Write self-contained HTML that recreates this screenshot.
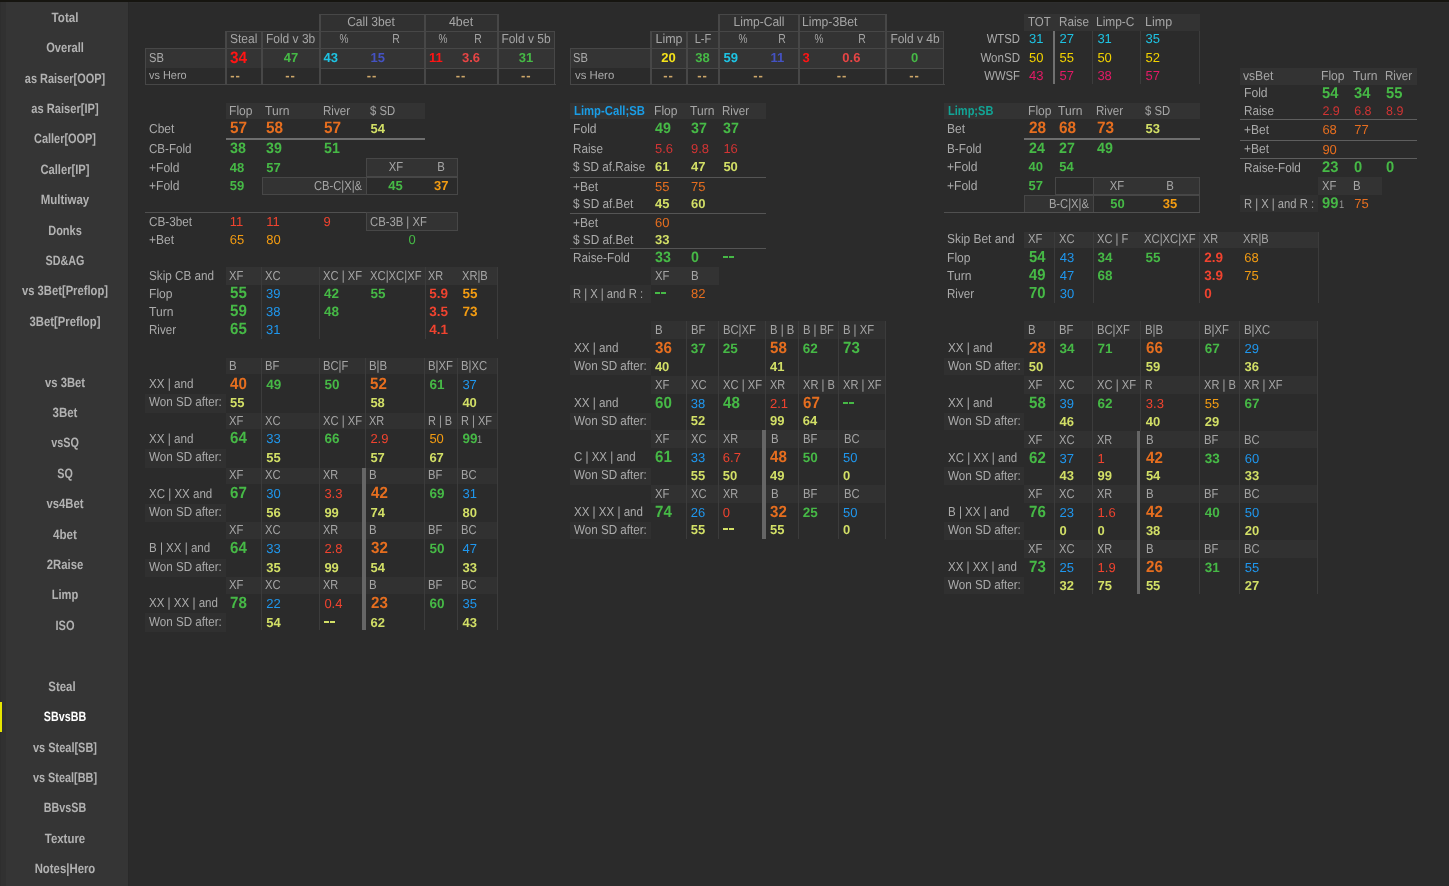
<!DOCTYPE html>
<html><head><meta charset="utf-8"><style>
html,body{margin:0;padding:0;}
body{width:1449px;height:886px;background:#2b2b2b;position:relative;overflow:hidden;font-family:"Liberation Sans",sans-serif;text-rendering:geometricPrecision;}
.a{position:absolute;white-space:nowrap;}
#w{position:absolute;left:0;top:0;width:1449px;height:886px;will-change:transform;}
</style></head><body><div id="w">
<div class="a" style="left:0px;top:0px;width:1449px;height:2px;background:#161510;"></div>
<div class="a" style="left:129px;top:2px;width:1320px;height:1px;background:#2e2e2e;"></div>
<div class="a" style="left:0px;top:2px;width:128px;height:884px;background:#353535;"></div>
<div class="a" style="left:0px;top:2px;width:6px;height:884px;background:#313131;"></div>
<div class="a" style="left:0px;top:2px;width:1px;height:884px;background:#2e2e2e;"></div>
<div class="a" style="left:128px;top:2px;width:1px;height:884px;background:#292929;"></div>
<div class="a" style="top:11.00px;font-size:13.5px;line-height:13.5px;color:#b2b2b2;font-weight:bold;left:-35.2px;width:200px;text-align:center;transform:scaleX(0.8573362405741801);transform-origin:center;">Total</div>
<div class="a" style="top:41.00px;font-size:13.5px;line-height:13.5px;color:#b2b2b2;font-weight:bold;left:-35.2px;width:200px;text-align:center;transform:scaleX(0.8236045116390689);transform-origin:center;">Overall</div>
<div class="a" style="top:72.00px;font-size:13.5px;line-height:13.5px;color:#b2b2b2;font-weight:bold;left:-35.2px;width:200px;text-align:center;transform:scaleX(0.8101416158254761);transform-origin:center;">as Raiser[OOP]</div>
<div class="a" style="top:102.00px;font-size:13.5px;line-height:13.5px;color:#b2b2b2;font-weight:bold;left:-35.2px;width:200px;text-align:center;transform:scaleX(0.8225881748931395);transform-origin:center;">as Raiser[IP]</div>
<div class="a" style="top:132.00px;font-size:13.5px;line-height:13.5px;color:#b2b2b2;font-weight:bold;left:-35.2px;width:200px;text-align:center;transform:scaleX(0.8102521887842357);transform-origin:center;">Caller[OOP]</div>
<div class="a" style="top:163.00px;font-size:13.5px;line-height:13.5px;color:#b2b2b2;font-weight:bold;left:-35.2px;width:200px;text-align:center;transform:scaleX(0.8274612060620291);transform-origin:center;">Caller[IP]</div>
<div class="a" style="top:193.00px;font-size:13.5px;line-height:13.5px;color:#b2b2b2;font-weight:bold;left:-35.2px;width:200px;text-align:center;transform:scaleX(0.8512085860143215);transform-origin:center;">Multiway</div>
<div class="a" style="top:224.00px;font-size:13.5px;line-height:13.5px;color:#b2b2b2;font-weight:bold;left:-35.2px;width:200px;text-align:center;transform:scaleX(0.814726053741871);transform-origin:center;">Donks</div>
<div class="a" style="top:254.00px;font-size:13.5px;line-height:13.5px;color:#b2b2b2;font-weight:bold;left:-35.2px;width:200px;text-align:center;transform:scaleX(0.7996023876770226);transform-origin:center;">SD&amp;AG</div>
<div class="a" style="top:284.00px;font-size:13.5px;line-height:13.5px;color:#b2b2b2;font-weight:bold;left:-35.2px;width:200px;text-align:center;transform:scaleX(0.8299003619984199);transform-origin:center;">vs 3Bet[Preflop]</div>
<div class="a" style="top:315.00px;font-size:13.5px;line-height:13.5px;color:#b2b2b2;font-weight:bold;left:-35.2px;width:200px;text-align:center;transform:scaleX(0.8354124539845491);transform-origin:center;">3Bet[Preflop]</div>
<div class="a" style="top:376.00px;font-size:13.5px;line-height:13.5px;color:#b2b2b2;font-weight:bold;left:-35.2px;width:200px;text-align:center;transform:scaleX(0.8324834029747563);transform-origin:center;">vs 3Bet</div>
<div class="a" style="top:406.00px;font-size:13.5px;line-height:13.5px;color:#b2b2b2;font-weight:bold;left:-35.2px;width:200px;text-align:center;transform:scaleX(0.850106380315887);transform-origin:center;">3Bet</div>
<div class="a" style="top:436.00px;font-size:13.5px;line-height:13.5px;color:#b2b2b2;font-weight:bold;left:-35.2px;width:200px;text-align:center;transform:scaleX(0.8016987390292718);transform-origin:center;">vsSQ</div>
<div class="a" style="top:467.00px;font-size:13.5px;line-height:13.5px;color:#b2b2b2;font-weight:bold;left:-35.2px;width:200px;text-align:center;transform:scaleX(0.7962825278810409);transform-origin:center;">SQ</div>
<div class="a" style="top:497.00px;font-size:13.5px;line-height:13.5px;color:#b2b2b2;font-weight:bold;left:-35.2px;width:200px;text-align:center;transform:scaleX(0.8360754084440255);transform-origin:center;">vs4Bet</div>
<div class="a" style="top:528.00px;font-size:13.5px;line-height:13.5px;color:#b2b2b2;font-weight:bold;left:-35.2px;width:200px;text-align:center;transform:scaleX(0.8638979040783838);transform-origin:center;">4bet</div>
<div class="a" style="top:558.00px;font-size:13.5px;line-height:13.5px;color:#b2b2b2;font-weight:bold;left:-35.2px;width:200px;text-align:center;transform:scaleX(0.838768871839738);transform-origin:center;">2Raise</div>
<div class="a" style="top:588.00px;font-size:13.5px;line-height:13.5px;color:#b2b2b2;font-weight:bold;left:-35.2px;width:200px;text-align:center;transform:scaleX(0.8249023348778051);transform-origin:center;">Limp</div>
<div class="a" style="top:619.00px;font-size:13.5px;line-height:13.5px;color:#b2b2b2;font-weight:bold;left:-35.2px;width:200px;text-align:center;transform:scaleX(0.8172692533803645);transform-origin:center;">ISO</div>
<div class="a" style="top:680.00px;font-size:13.5px;line-height:13.5px;color:#b2b2b2;font-weight:bold;left:-38px;width:200px;text-align:center;transform:scaleX(0.8461862066356448);transform-origin:center;">Steal</div>
<div class="a" style="top:710.00px;font-size:13.5px;line-height:13.5px;color:#ffffff;font-weight:bold;left:-35.2px;width:200px;text-align:center;transform:scaleX(0.7930169991796028);transform-origin:center;">SBvsBB</div>
<div class="a" style="top:741.00px;font-size:13.5px;line-height:13.5px;color:#b2b2b2;font-weight:bold;left:-35.2px;width:200px;text-align:center;transform:scaleX(0.8117064432853907);transform-origin:center;">vs Steal[SB]</div>
<div class="a" style="top:771.00px;font-size:13.5px;line-height:13.5px;color:#b2b2b2;font-weight:bold;left:-35.2px;width:200px;text-align:center;transform:scaleX(0.8076106444640928);transform-origin:center;">vs Steal[BB]</div>
<div class="a" style="top:801.00px;font-size:13.5px;line-height:13.5px;color:#b2b2b2;font-weight:bold;left:-35.2px;width:200px;text-align:center;transform:scaleX(0.7930169991796028);transform-origin:center;">BBvsSB</div>
<div class="a" style="top:832.00px;font-size:13.5px;line-height:13.5px;color:#b2b2b2;font-weight:bold;left:-35.2px;width:200px;text-align:center;transform:scaleX(0.8472850520160605);transform-origin:center;">Texture</div>
<div class="a" style="top:862.00px;font-size:13.5px;line-height:13.5px;color:#b2b2b2;font-weight:bold;left:-35.2px;width:200px;text-align:center;transform:scaleX(0.8418797423097908);transform-origin:center;">Notes|Hero</div>
<div class="a" style="left:0px;top:702px;width:2px;height:30px;background:#e6e600;"></div>
<div class="a" style="left:320px;top:14px;width:104px;height:17px;background:#313131;"></div>
<div class="a" style="left:424px;top:14px;width:73px;height:17px;background:#313131;"></div>
<div class="a" style="left:226px;top:31px;width:329px;height:17px;background:#333333;"></div>
<div class="a" style="left:145px;top:48px;width:410px;height:20px;background:#343434;"></div>
<div class="a" style="left:320px;top:14px;width:177px;height:1px;background:#474747;"></div>
<div class="a" style="left:226px;top:31px;width:329px;height:1px;background:#474747;"></div>
<div class="a" style="left:145px;top:48px;width:410px;height:1px;background:#474747;"></div>
<div class="a" style="left:320px;top:68px;width:235px;height:1px;background:#474747;"></div>
<div class="a" style="left:145px;top:84px;width:411px;height:1px;background:#474747;"></div>
<div class="a" style="left:145px;top:48px;width:1px;height:37px;background:#474747;"></div>
<div class="a" style="left:225px;top:31px;width:2px;height:54px;background:#474747;"></div>
<div class="a" style="left:261px;top:31px;width:2px;height:54px;background:#474747;"></div>
<div class="a" style="left:319px;top:14px;width:2px;height:71px;background:#474747;"></div>
<div class="a" style="left:424px;top:14px;width:2px;height:71px;background:#474747;"></div>
<div class="a" style="left:497px;top:14px;width:2px;height:71px;background:#474747;"></div>
<div class="a" style="left:554px;top:31px;width:1px;height:54px;background:#474747;"></div>
<div class="a" style="top:15.00px;font-size:13px;line-height:13px;color:#a6a6a6;left:270.8px;width:200px;text-align:center;transform:scaleX(0.9297538042805888);transform-origin:center;">Call 3bet</div>
<div class="a" style="top:15.00px;font-size:13px;line-height:13px;color:#a6a6a6;left:361px;width:200px;text-align:center;transform:scaleX(0.9551777374657454);transform-origin:center;">4bet</div>
<div class="a" style="top:32.00px;font-size:13px;line-height:13px;color:#a6a6a6;left:229.5px;transform:scaleX(0.9215740557642871);transform-origin:left;">Steal</div>
<div class="a" style="top:32.00px;font-size:13px;line-height:13px;color:#a6a6a6;left:265.5px;transform:scaleX(0.9204142011834319);transform-origin:left;">Fold v 3b</div>
<div class="a" style="top:32.00px;font-size:13px;line-height:13px;color:#a6a6a6;left:243.5px;width:200px;text-align:center;transform:scaleX(0.773032568749208);transform-origin:center;">%</div>
<div class="a" style="top:32.00px;font-size:13px;line-height:13px;color:#a6a6a6;left:295.8px;width:200px;text-align:center;transform:scaleX(0.8007697508711707);transform-origin:center;">R</div>
<div class="a" style="top:32.00px;font-size:13px;line-height:13px;color:#a6a6a6;left:342.7px;width:200px;text-align:center;transform:scaleX(0.773032568749208);transform-origin:center;">%</div>
<div class="a" style="top:32.00px;font-size:13px;line-height:13px;color:#a6a6a6;left:377.8px;width:200px;text-align:center;transform:scaleX(0.8007697508711707);transform-origin:center;">R</div>
<div class="a" style="top:32.00px;font-size:13px;line-height:13px;color:#a6a6a6;left:426px;width:200px;text-align:center;transform:scaleX(0.9204142011834319);transform-origin:center;">Fold v 5b</div>
<div class="a" style="top:51.00px;font-size:13px;line-height:13px;color:#ababab;left:148.8px;transform:scaleX(0.8560198220520329);transform-origin:left;">SB</div>
<div class="a" style="top:50.00px;font-size:16.5px;line-height:16.5px;color:#ff1414;font-weight:bold;left:230px;transform:scaleX(0.93);transform-origin:left;">34</div>
<div class="a" style="top:51.00px;font-size:13px;line-height:13px;color:#46b946;font-weight:bold;left:191px;width:200px;text-align:center;">47</div>
<div class="a" style="top:51.00px;font-size:13px;line-height:13px;color:#1ec3e3;font-weight:bold;left:323.5px;">43</div>
<div class="a" style="top:51.00px;font-size:13px;line-height:13px;color:#4452c2;font-weight:bold;left:370.5px;">15</div>
<div class="a" style="top:51.00px;font-size:13px;line-height:13px;color:#ff1414;font-weight:bold;left:429px;">11</div>
<div class="a" style="top:51.00px;font-size:13px;line-height:13px;color:#e84545;font-weight:bold;left:462px;">3.6</div>
<div class="a" style="top:51.00px;font-size:13px;line-height:13px;color:#46b946;font-weight:bold;left:426px;width:200px;text-align:center;">31</div>
<div class="a" style="top:71.00px;font-size:11.5px;line-height:11.5px;color:#ababab;left:149.2px;transform:scaleX(0.95);transform-origin:left;">vs Hero</div>
<div class="a" style="top:69.00px;font-size:13px;line-height:13px;color:#cfa86a;font-weight:bold;letter-spacing:1.04px;left:135.5px;width:200px;text-align:center;">--</div>
<div class="a" style="top:69.00px;font-size:13px;line-height:13px;color:#cfa86a;font-weight:bold;letter-spacing:1.04px;left:190.5px;width:200px;text-align:center;">--</div>
<div class="a" style="top:69.00px;font-size:13px;line-height:13px;color:#cfa86a;font-weight:bold;letter-spacing:1.04px;left:272px;width:200px;text-align:center;">--</div>
<div class="a" style="top:69.00px;font-size:13px;line-height:13px;color:#cfa86a;font-weight:bold;letter-spacing:1.04px;left:361px;width:200px;text-align:center;">--</div>
<div class="a" style="top:69.00px;font-size:13px;line-height:13px;color:#cfa86a;font-weight:bold;letter-spacing:1.04px;left:426.29999999999995px;width:200px;text-align:center;">--</div>
<div class="a" style="left:226px;top:103px;width:199px;height:16px;background:#333333;"></div>
<div class="a" style="top:104.00px;font-size:13px;line-height:13px;color:#a6a6a6;left:228.7px;transform:scaleX(0.9299814643188137);transform-origin:left;">Flop</div>
<div class="a" style="top:104.00px;font-size:13px;line-height:13px;color:#a6a6a6;left:265.2px;transform:scaleX(0.9306614544325301);transform-origin:left;">Turn</div>
<div class="a" style="top:104.00px;font-size:13px;line-height:13px;color:#a6a6a6;left:322.6px;transform:scaleX(0.8899576673587972);transform-origin:left;">River</div>
<div class="a" style="top:104.00px;font-size:13px;line-height:13px;color:#a6a6a6;left:369.5px;transform:scaleX(0.8696176654445926);transform-origin:left;">$ SD</div>
<div class="a" style="top:122.00px;font-size:13px;line-height:13px;color:#ababab;left:149.10000000000002px;transform:scaleX(0.9195881788114797);transform-origin:left;">Cbet</div>
<div class="a" style="top:120.00px;font-size:16.5px;line-height:16.5px;color:#e66e1f;font-weight:bold;left:229.7px;transform:scaleX(0.93);transform-origin:left;">57</div>
<div class="a" style="top:120.00px;font-size:16.5px;line-height:16.5px;color:#e66e1f;font-weight:bold;left:266.2px;transform:scaleX(0.93);transform-origin:left;">58</div>
<div class="a" style="top:120.00px;font-size:16.5px;line-height:16.5px;color:#e66e1f;font-weight:bold;left:323.6px;transform:scaleX(0.93);transform-origin:left;">57</div>
<div class="a" style="top:122.00px;font-size:13px;line-height:13px;color:#d2df66;font-weight:bold;left:370.5px;">54</div>
<div class="a" style="left:226px;top:138px;width:199px;height:2px;background:#6e6e6e;"></div>
<div class="a" style="top:142.00px;font-size:13px;line-height:13px;color:#ababab;left:149.10000000000002px;transform:scaleX(0.8906076216421043);transform-origin:left;">CB-Fold</div>
<div class="a" style="top:141.00px;font-size:15px;line-height:15px;color:#46b946;font-weight:bold;left:229.7px;transform:scaleX(0.95);transform-origin:left;">38</div>
<div class="a" style="top:141.00px;font-size:15px;line-height:15px;color:#46b946;font-weight:bold;left:266.2px;transform:scaleX(0.95);transform-origin:left;">39</div>
<div class="a" style="top:141.00px;font-size:15px;line-height:15px;color:#46b946;font-weight:bold;left:323.6px;transform:scaleX(0.95);transform-origin:left;">51</div>
<div class="a" style="top:161.00px;font-size:13px;line-height:13px;color:#ababab;left:149.10000000000002px;transform:scaleX(0.9266854766854767);transform-origin:left;">+Fold</div>
<div class="a" style="top:161.00px;font-size:13px;line-height:13px;color:#46b946;font-weight:bold;left:229.7px;">48</div>
<div class="a" style="top:161.00px;font-size:13px;line-height:13px;color:#46b946;font-weight:bold;left:266.2px;">57</div>
<div class="a" style="top:179.00px;font-size:13px;line-height:13px;color:#ababab;left:149.10000000000002px;transform:scaleX(0.9266854766854767);transform-origin:left;">+Fold</div>
<div class="a" style="top:179.00px;font-size:13px;line-height:13px;color:#46b946;font-weight:bold;left:229.7px;">59</div>
<div class="a" style="left:366px;top:158px;width:92px;height:19px;background:#333333;box-shadow:inset 0 0 0 1px #474747;"></div>
<div class="a" style="top:160.00px;font-size:13px;line-height:13px;color:#a6a6a6;left:295.8px;width:200px;text-align:center;transform:scaleX(0.8663825284383174);transform-origin:center;">XF</div>
<div class="a" style="top:160.00px;font-size:13px;line-height:13px;color:#a6a6a6;left:341.3px;width:200px;text-align:center;transform:scaleX(0.8766302511544092);transform-origin:center;">B</div>
<div class="a" style="left:262px;top:177px;width:105px;height:18px;background:#333333;box-shadow:inset 0 0 0 1px #474747;"></div>
<div class="a" style="top:179.00px;font-size:13px;line-height:13px;color:#a6a6a6;left:162px;width:200px;text-align:right;transform:scaleX(0.8599898624438501);transform-origin:right;">CB-C|X|&amp;</div>
<div class="a" style="left:366px;top:177px;width:92px;height:18px;box-shadow:inset 0 0 0 1px #474747;"></div>
<div class="a" style="top:179.00px;font-size:13px;line-height:13px;color:#46b946;font-weight:bold;left:295.5px;width:200px;text-align:center;">45</div>
<div class="a" style="top:179.00px;font-size:13px;line-height:13px;color:#f39c12;font-weight:bold;left:341.3px;width:200px;text-align:center;">37</div>
<div class="a" style="left:145px;top:212px;width:313px;height:1px;background:#505050;"></div>
<div class="a" style="left:366px;top:212px;width:92px;height:19px;background:#333333;box-shadow:inset 0 0 0 1px #474747;"></div>
<div class="a" style="top:215.00px;font-size:13px;line-height:13px;color:#a6a6a6;left:369.7px;transform:scaleX(0.8670697071123468);transform-origin:left;">CB-3B | XF</div>
<div class="a" style="top:215.00px;font-size:13px;line-height:13px;color:#ababab;left:149.10000000000002px;transform:scaleX(0.9033613531417337);transform-origin:left;">CB-3bet</div>
<div class="a" style="top:215.00px;font-size:13px;line-height:13px;color:#f0432f;left:229.7px;">11</div>
<div class="a" style="top:215.00px;font-size:13px;line-height:13px;color:#f0432f;left:266.2px;">11</div>
<div class="a" style="top:215.00px;font-size:13px;line-height:13px;color:#f0432f;left:323.6px;">9</div>
<div class="a" style="top:233.00px;font-size:13px;line-height:13px;color:#ababab;left:149.10000000000002px;transform:scaleX(0.9217582417582417);transform-origin:left;">+Bet</div>
<div class="a" style="top:233.00px;font-size:13px;line-height:13px;color:#f39c12;left:229.7px;">65</div>
<div class="a" style="top:233.00px;font-size:13px;line-height:13px;color:#f39c12;left:266.2px;">80</div>
<div class="a" style="top:233.00px;font-size:13px;line-height:13px;color:#46b946;left:312.2px;width:200px;text-align:center;">0</div>
<div class="a" style="left:226px;top:267px;width:271px;height:18px;background:#333333;"></div>
<div class="a" style="top:269.00px;font-size:13px;line-height:13px;color:#ababab;left:149.10000000000002px;transform:scaleX(0.9007878804259689);transform-origin:left;">Skip CB and</div>
<div class="a" style="top:269.00px;font-size:13px;line-height:13px;color:#a6a6a6;left:229px;transform:scaleX(0.8663825284383174);transform-origin:left;">XF</div>
<div class="a" style="top:269.00px;font-size:13px;line-height:13px;color:#a6a6a6;left:265px;transform:scaleX(0.8632526700013519);transform-origin:left;">XC</div>
<div class="a" style="top:269.00px;font-size:13px;line-height:13px;color:#a6a6a6;left:322.9px;transform:scaleX(0.8617477026618922);transform-origin:left;">XC | XF</div>
<div class="a" style="top:269.00px;font-size:13px;line-height:13px;color:#a6a6a6;left:369.5px;transform:scaleX(0.8662567823809953);transform-origin:left;">XC|XC|XF</div>
<div class="a" style="top:269.00px;font-size:13px;line-height:13px;color:#a6a6a6;left:428.3px;transform:scaleX(0.8398323644720832);transform-origin:left;">XR</div>
<div class="a" style="top:269.00px;font-size:13px;line-height:13px;color:#a6a6a6;left:461.5px;transform:scaleX(0.8551614525049059);transform-origin:left;">XR|B</div>
<div class="a" style="left:261px;top:267px;width:1px;height:72px;background:#3c3c3c;"></div>
<div class="a" style="left:319px;top:267px;width:1px;height:72px;background:#3c3c3c;"></div>
<div class="a" style="left:425px;top:267px;width:1px;height:72px;background:#3c3c3c;"></div>
<div class="a" style="left:497px;top:267px;width:1px;height:72px;background:#3c3c3c;"></div>
<div class="a" style="top:287.00px;font-size:13px;line-height:13px;color:#ababab;left:149.10000000000002px;transform:scaleX(0.9299814643188137);transform-origin:left;">Flop</div>
<div class="a" style="top:285.00px;font-size:16.25px;line-height:16.25px;color:#46b946;font-weight:bold;left:230px;transform:scaleX(0.93);transform-origin:left;">55</div>
<div class="a" style="top:287.00px;font-size:13px;line-height:13px;color:#1f97ee;left:266px;">39</div>
<div class="a" style="top:287.00px;font-size:13.5px;line-height:13.5px;color:#46b946;font-weight:bold;left:323.9px;">42</div>
<div class="a" style="top:287.00px;font-size:13.5px;line-height:13.5px;color:#46b946;font-weight:bold;left:370.5px;">55</div>
<div class="a" style="top:287.00px;font-size:13.5px;line-height:13.5px;color:#f0432f;font-weight:bold;left:429.3px;">5.9</div>
<div class="a" style="top:287.00px;font-size:13.5px;line-height:13.5px;color:#f39c12;font-weight:bold;left:462.5px;">55</div>
<div class="a" style="top:305.00px;font-size:13px;line-height:13px;color:#ababab;left:149.10000000000002px;transform:scaleX(0.9306614544325301);transform-origin:left;">Turn</div>
<div class="a" style="top:303.00px;font-size:16.25px;line-height:16.25px;color:#46b946;font-weight:bold;left:230px;transform:scaleX(0.93);transform-origin:left;">59</div>
<div class="a" style="top:305.00px;font-size:13px;line-height:13px;color:#1f97ee;left:266px;">38</div>
<div class="a" style="top:305.00px;font-size:13.5px;line-height:13.5px;color:#46b946;font-weight:bold;left:323.9px;">48</div>
<div class="a" style="top:305.00px;font-size:13.5px;line-height:13.5px;color:#f0432f;font-weight:bold;left:429.3px;">3.5</div>
<div class="a" style="top:305.00px;font-size:13.5px;line-height:13.5px;color:#f39c12;font-weight:bold;left:462.5px;">73</div>
<div class="a" style="top:323.00px;font-size:13px;line-height:13px;color:#ababab;left:149.10000000000002px;transform:scaleX(0.8899576673587972);transform-origin:left;">River</div>
<div class="a" style="top:321.00px;font-size:16.25px;line-height:16.25px;color:#46b946;font-weight:bold;left:230px;transform:scaleX(0.93);transform-origin:left;">65</div>
<div class="a" style="top:323.00px;font-size:13px;line-height:13px;color:#1f97ee;left:266px;">31</div>
<div class="a" style="top:323.00px;font-size:13.5px;line-height:13.5px;color:#f0432f;font-weight:bold;left:429.3px;">4.1</div>
<div class="a" style="left:226px;top:358px;width:271px;height:16px;background:#313131;"></div>
<div class="a" style="left:145px;top:394px;width:81px;height:19px;background:#303030;"></div>
<div class="a" style="left:261px;top:358px;width:1px;height:55px;background:#3c3c3c;"></div>
<div class="a" style="left:319px;top:358px;width:1px;height:55px;background:#3c3c3c;"></div>
<div class="a" style="left:365px;top:358px;width:1px;height:55px;background:#3c3c3c;"></div>
<div class="a" style="left:424px;top:358px;width:1px;height:55px;background:#3c3c3c;"></div>
<div class="a" style="left:457px;top:358px;width:1px;height:55px;background:#3c3c3c;"></div>
<div class="a" style="left:497px;top:358px;width:1px;height:55px;background:#3c3c3c;"></div>
<div class="a" style="top:359.00px;font-size:13px;line-height:13px;color:#a6a6a6;left:228.6px;transform:scaleX(0.8766302511544092);transform-origin:left;">B</div>
<div class="a" style="top:376.00px;font-size:16.25px;line-height:16.25px;color:#e66e1f;font-weight:bold;left:230px;transform:scaleX(0.93);transform-origin:left;">40</div>
<div class="a" style="top:396.00px;font-size:13px;line-height:13px;color:#d2df66;font-weight:bold;left:230px;">55</div>
<div class="a" style="top:359.00px;font-size:13px;line-height:13px;color:#a6a6a6;left:264.8px;transform:scaleX(0.8635137121189853);transform-origin:left;">BF</div>
<div class="a" style="top:378.00px;font-size:13.5px;line-height:13.5px;color:#46b946;font-weight:bold;left:266.2px;">49</div>
<div class="a" style="top:359.00px;font-size:13px;line-height:13px;color:#a6a6a6;left:323.0px;transform:scaleX(0.8599860381623562);transform-origin:left;">BC|F</div>
<div class="a" style="top:378.00px;font-size:13.5px;line-height:13.5px;color:#46b946;font-weight:bold;left:324.4px;">50</div>
<div class="a" style="top:359.00px;font-size:13px;line-height:13px;color:#a6a6a6;left:369.0px;transform:scaleX(0.8775075414781297);transform-origin:left;">B|B</div>
<div class="a" style="top:376.00px;font-size:16.25px;line-height:16.25px;color:#e66e1f;font-weight:bold;left:370.4px;transform:scaleX(0.93);transform-origin:left;">52</div>
<div class="a" style="top:396.00px;font-size:13px;line-height:13px;color:#d2df66;font-weight:bold;left:370.4px;">58</div>
<div class="a" style="top:359.00px;font-size:13px;line-height:13px;color:#a6a6a6;left:428.0px;transform:scaleX(0.8713246443479);transform-origin:left;">B|XF</div>
<div class="a" style="top:378.00px;font-size:13.5px;line-height:13.5px;color:#46b946;font-weight:bold;left:429.4px;">61</div>
<div class="a" style="top:359.00px;font-size:13px;line-height:13px;color:#a6a6a6;left:461.0px;transform:scaleX(0.8692096855284711);transform-origin:left;">B|XC</div>
<div class="a" style="top:378.00px;font-size:13px;line-height:13px;color:#1f97ee;left:462.4px;">37</div>
<div class="a" style="top:396.00px;font-size:13px;line-height:13px;color:#d2df66;font-weight:bold;left:462.4px;">40</div>
<div class="a" style="top:377.00px;font-size:13px;line-height:13px;color:#ababab;left:149.0px;transform:scaleX(0.8982537605635187);transform-origin:left;">XX | and</div>
<div class="a" style="top:395.00px;font-size:13px;line-height:13px;color:#ababab;left:149.0px;transform:scaleX(0.8945829071791284);transform-origin:left;">Won SD after:</div>
<div class="a" style="left:226px;top:413px;width:271px;height:16px;background:#313131;"></div>
<div class="a" style="left:145px;top:449px;width:81px;height:19px;background:#303030;"></div>
<div class="a" style="left:261px;top:413px;width:1px;height:55px;background:#3c3c3c;"></div>
<div class="a" style="left:319px;top:413px;width:1px;height:55px;background:#3c3c3c;"></div>
<div class="a" style="left:365px;top:413px;width:1px;height:55px;background:#3c3c3c;"></div>
<div class="a" style="left:424px;top:413px;width:1px;height:55px;background:#3c3c3c;"></div>
<div class="a" style="left:457px;top:413px;width:1px;height:55px;background:#3c3c3c;"></div>
<div class="a" style="left:497px;top:413px;width:1px;height:55px;background:#3c3c3c;"></div>
<div class="a" style="top:414.00px;font-size:13px;line-height:13px;color:#a6a6a6;left:228.6px;transform:scaleX(0.8663825284383174);transform-origin:left;">XF</div>
<div class="a" style="top:430.00px;font-size:16.25px;line-height:16.25px;color:#46b946;font-weight:bold;left:230px;transform:scaleX(0.93);transform-origin:left;">64</div>
<div class="a" style="top:414.00px;font-size:13px;line-height:13px;color:#a6a6a6;left:264.8px;transform:scaleX(0.8632526700013519);transform-origin:left;">XC</div>
<div class="a" style="top:432.00px;font-size:13px;line-height:13px;color:#1f97ee;left:266.2px;">33</div>
<div class="a" style="top:451.00px;font-size:13px;line-height:13px;color:#d2df66;font-weight:bold;left:266.2px;">55</div>
<div class="a" style="top:414.00px;font-size:13px;line-height:13px;color:#a6a6a6;left:323.0px;transform:scaleX(0.8617477026618922);transform-origin:left;">XC | XF</div>
<div class="a" style="top:432.00px;font-size:13.5px;line-height:13.5px;color:#46b946;font-weight:bold;left:324.4px;">66</div>
<div class="a" style="top:414.00px;font-size:13px;line-height:13px;color:#a6a6a6;left:369.0px;transform:scaleX(0.8398323644720832);transform-origin:left;">XR</div>
<div class="a" style="top:432.00px;font-size:13px;line-height:13px;color:#f0432f;left:370.4px;">2.9</div>
<div class="a" style="top:451.00px;font-size:13px;line-height:13px;color:#d2df66;font-weight:bold;left:370.4px;">57</div>
<div class="a" style="top:414.00px;font-size:13px;line-height:13px;color:#a6a6a6;left:428.0px;transform:scaleX(0.8426407700826305);transform-origin:left;">R | B</div>
<div class="a" style="top:432.00px;font-size:13px;line-height:13px;color:#f39c12;left:429.4px;">50</div>
<div class="a" style="top:451.00px;font-size:13px;line-height:13px;color:#d2df66;font-weight:bold;left:429.4px;">67</div>
<div class="a" style="top:414.00px;font-size:13px;line-height:13px;color:#a6a6a6;left:461.0px;transform:scaleX(0.8453640705461725);transform-origin:left;">R | XF</div>
<div class="a" style="top:432.00px;font-size:13.5px;line-height:13.5px;color:#46b946;font-weight:bold;left:462.4px;">99</div>
<div class="a" style="top:432.00px;font-size:13px;line-height:13px;color:#ababab;left:149.0px;transform:scaleX(0.8982537605635187);transform-origin:left;">XX | and</div>
<div class="a" style="top:450.00px;font-size:13px;line-height:13px;color:#ababab;left:149.0px;transform:scaleX(0.8945829071791284);transform-origin:left;">Won SD after:</div>
<div class="a" style="left:226px;top:468px;width:271px;height:16px;background:#313131;"></div>
<div class="a" style="left:145px;top:504px;width:81px;height:18px;background:#303030;"></div>
<div class="a" style="left:261px;top:468px;width:1px;height:54px;background:#3c3c3c;"></div>
<div class="a" style="left:319px;top:468px;width:1px;height:54px;background:#3c3c3c;"></div>
<div class="a" style="left:424px;top:468px;width:1px;height:54px;background:#3c3c3c;"></div>
<div class="a" style="left:457px;top:468px;width:1px;height:54px;background:#3c3c3c;"></div>
<div class="a" style="left:497px;top:468px;width:1px;height:54px;background:#3c3c3c;"></div>
<div class="a" style="top:468.00px;font-size:13px;line-height:13px;color:#a6a6a6;left:228.6px;transform:scaleX(0.8663825284383174);transform-origin:left;">XF</div>
<div class="a" style="top:485.00px;font-size:16.25px;line-height:16.25px;color:#46b946;font-weight:bold;left:230px;transform:scaleX(0.93);transform-origin:left;">67</div>
<div class="a" style="top:468.00px;font-size:13px;line-height:13px;color:#a6a6a6;left:264.8px;transform:scaleX(0.8632526700013519);transform-origin:left;">XC</div>
<div class="a" style="top:487.00px;font-size:13px;line-height:13px;color:#1f97ee;left:266.2px;">30</div>
<div class="a" style="top:506.00px;font-size:13px;line-height:13px;color:#d2df66;font-weight:bold;left:266.2px;">56</div>
<div class="a" style="top:468.00px;font-size:13px;line-height:13px;color:#a6a6a6;left:323.0px;transform:scaleX(0.8398323644720832);transform-origin:left;">XR</div>
<div class="a" style="top:487.00px;font-size:13px;line-height:13px;color:#f0432f;left:324.4px;">3.3</div>
<div class="a" style="top:506.00px;font-size:13px;line-height:13px;color:#d2df66;font-weight:bold;left:324.4px;">99</div>
<div class="a" style="top:468.00px;font-size:13px;line-height:13px;color:#a6a6a6;left:369.1px;transform:scaleX(0.8766302511544092);transform-origin:left;">B</div>
<div class="a" style="top:485.00px;font-size:16.25px;line-height:16.25px;color:#e66e1f;font-weight:bold;left:370.5px;transform:scaleX(0.93);transform-origin:left;">42</div>
<div class="a" style="top:506.00px;font-size:13px;line-height:13px;color:#d2df66;font-weight:bold;left:370.5px;">74</div>
<div class="a" style="top:468.00px;font-size:13px;line-height:13px;color:#a6a6a6;left:428.1px;transform:scaleX(0.8635137121189853);transform-origin:left;">BF</div>
<div class="a" style="top:487.00px;font-size:13.5px;line-height:13.5px;color:#46b946;font-weight:bold;left:429.5px;">69</div>
<div class="a" style="top:468.00px;font-size:13px;line-height:13px;color:#a6a6a6;left:461.1px;transform:scaleX(0.8606137623360822);transform-origin:left;">BC</div>
<div class="a" style="top:487.00px;font-size:13px;line-height:13px;color:#1f97ee;left:462.5px;">31</div>
<div class="a" style="top:506.00px;font-size:13px;line-height:13px;color:#d2df66;font-weight:bold;left:462.5px;">80</div>
<div class="a" style="top:487.00px;font-size:13px;line-height:13px;color:#ababab;left:149.0px;transform:scaleX(0.8863294277164124);transform-origin:left;">XC | XX and</div>
<div class="a" style="top:505.00px;font-size:13px;line-height:13px;color:#ababab;left:149.0px;transform:scaleX(0.8945829071791284);transform-origin:left;">Won SD after:</div>
<div class="a" style="left:226px;top:522px;width:271px;height:17px;background:#313131;"></div>
<div class="a" style="left:145px;top:559px;width:81px;height:18px;background:#303030;"></div>
<div class="a" style="left:261px;top:522px;width:1px;height:55px;background:#3c3c3c;"></div>
<div class="a" style="left:319px;top:522px;width:1px;height:55px;background:#3c3c3c;"></div>
<div class="a" style="left:424px;top:522px;width:1px;height:55px;background:#3c3c3c;"></div>
<div class="a" style="left:457px;top:522px;width:1px;height:55px;background:#3c3c3c;"></div>
<div class="a" style="left:497px;top:522px;width:1px;height:55px;background:#3c3c3c;"></div>
<div class="a" style="top:523.00px;font-size:13px;line-height:13px;color:#a6a6a6;left:228.6px;transform:scaleX(0.8663825284383174);transform-origin:left;">XF</div>
<div class="a" style="top:540.00px;font-size:16.25px;line-height:16.25px;color:#46b946;font-weight:bold;left:230px;transform:scaleX(0.93);transform-origin:left;">64</div>
<div class="a" style="top:523.00px;font-size:13px;line-height:13px;color:#a6a6a6;left:264.8px;transform:scaleX(0.8632526700013519);transform-origin:left;">XC</div>
<div class="a" style="top:542.00px;font-size:13px;line-height:13px;color:#1f97ee;left:266.2px;">33</div>
<div class="a" style="top:561.00px;font-size:13px;line-height:13px;color:#d2df66;font-weight:bold;left:266.2px;">35</div>
<div class="a" style="top:523.00px;font-size:13px;line-height:13px;color:#a6a6a6;left:323.0px;transform:scaleX(0.8398323644720832);transform-origin:left;">XR</div>
<div class="a" style="top:542.00px;font-size:13px;line-height:13px;color:#f0432f;left:324.4px;">2.8</div>
<div class="a" style="top:561.00px;font-size:13px;line-height:13px;color:#d2df66;font-weight:bold;left:324.4px;">99</div>
<div class="a" style="top:523.00px;font-size:13px;line-height:13px;color:#a6a6a6;left:369.1px;transform:scaleX(0.8766302511544092);transform-origin:left;">B</div>
<div class="a" style="top:540.00px;font-size:16.25px;line-height:16.25px;color:#e66e1f;font-weight:bold;left:370.5px;transform:scaleX(0.93);transform-origin:left;">32</div>
<div class="a" style="top:561.00px;font-size:13px;line-height:13px;color:#d2df66;font-weight:bold;left:370.5px;">54</div>
<div class="a" style="top:523.00px;font-size:13px;line-height:13px;color:#a6a6a6;left:428.1px;transform:scaleX(0.8635137121189853);transform-origin:left;">BF</div>
<div class="a" style="top:542.00px;font-size:13.5px;line-height:13.5px;color:#46b946;font-weight:bold;left:429.5px;">50</div>
<div class="a" style="top:523.00px;font-size:13px;line-height:13px;color:#a6a6a6;left:461.1px;transform:scaleX(0.8606137623360822);transform-origin:left;">BC</div>
<div class="a" style="top:542.00px;font-size:13px;line-height:13px;color:#1f97ee;left:462.5px;">47</div>
<div class="a" style="top:561.00px;font-size:13px;line-height:13px;color:#d2df66;font-weight:bold;left:462.5px;">33</div>
<div class="a" style="top:541.00px;font-size:13px;line-height:13px;color:#ababab;left:149.0px;transform:scaleX(0.8884044927895688);transform-origin:left;">B | XX | and</div>
<div class="a" style="top:560.00px;font-size:13px;line-height:13px;color:#ababab;left:149.0px;transform:scaleX(0.8945829071791284);transform-origin:left;">Won SD after:</div>
<div class="a" style="left:226px;top:577px;width:271px;height:17px;background:#313131;"></div>
<div class="a" style="left:145px;top:613px;width:81px;height:19px;background:#303030;"></div>
<div class="a" style="left:261px;top:577px;width:1px;height:53px;background:#3c3c3c;"></div>
<div class="a" style="left:319px;top:577px;width:1px;height:53px;background:#3c3c3c;"></div>
<div class="a" style="left:424px;top:577px;width:1px;height:53px;background:#3c3c3c;"></div>
<div class="a" style="left:457px;top:577px;width:1px;height:53px;background:#3c3c3c;"></div>
<div class="a" style="left:497px;top:577px;width:1px;height:53px;background:#3c3c3c;"></div>
<div class="a" style="top:578.00px;font-size:13px;line-height:13px;color:#a6a6a6;left:228.6px;transform:scaleX(0.8663825284383174);transform-origin:left;">XF</div>
<div class="a" style="top:595.00px;font-size:16.25px;line-height:16.25px;color:#46b946;font-weight:bold;left:230px;transform:scaleX(0.93);transform-origin:left;">78</div>
<div class="a" style="top:578.00px;font-size:13px;line-height:13px;color:#a6a6a6;left:264.8px;transform:scaleX(0.8632526700013519);transform-origin:left;">XC</div>
<div class="a" style="top:597.00px;font-size:13px;line-height:13px;color:#1f97ee;left:266.2px;">22</div>
<div class="a" style="top:616.00px;font-size:13px;line-height:13px;color:#d2df66;font-weight:bold;left:266.2px;">54</div>
<div class="a" style="top:578.00px;font-size:13px;line-height:13px;color:#a6a6a6;left:323.0px;transform:scaleX(0.8398323644720832);transform-origin:left;">XR</div>
<div class="a" style="top:597.00px;font-size:13px;line-height:13px;color:#f0432f;left:324.4px;">0.4</div>
<div class="a" style="left:324px;top:621px;width:5px;height:2px;background:#d2df66;"></div>
<div class="a" style="left:330px;top:621px;width:5px;height:2px;background:#d2df66;"></div>
<div class="a" style="top:578.00px;font-size:13px;line-height:13px;color:#a6a6a6;left:369.1px;transform:scaleX(0.8766302511544092);transform-origin:left;">B</div>
<div class="a" style="top:595.00px;font-size:16.25px;line-height:16.25px;color:#e66e1f;font-weight:bold;left:370.5px;transform:scaleX(0.93);transform-origin:left;">23</div>
<div class="a" style="top:616.00px;font-size:13px;line-height:13px;color:#d2df66;font-weight:bold;left:370.5px;">62</div>
<div class="a" style="top:578.00px;font-size:13px;line-height:13px;color:#a6a6a6;left:428.1px;transform:scaleX(0.8635137121189853);transform-origin:left;">BF</div>
<div class="a" style="top:597.00px;font-size:13.5px;line-height:13.5px;color:#46b946;font-weight:bold;left:429.5px;">60</div>
<div class="a" style="top:578.00px;font-size:13px;line-height:13px;color:#a6a6a6;left:461.1px;transform:scaleX(0.8606137623360822);transform-origin:left;">BC</div>
<div class="a" style="top:597.00px;font-size:13px;line-height:13px;color:#1f97ee;left:462.5px;">35</div>
<div class="a" style="top:616.00px;font-size:13px;line-height:13px;color:#d2df66;font-weight:bold;left:462.5px;">43</div>
<div class="a" style="top:596.00px;font-size:13px;line-height:13px;color:#ababab;left:149.0px;transform:scaleX(0.8883170834565974);transform-origin:left;">XX | XX | and</div>
<div class="a" style="top:615.00px;font-size:13px;line-height:13px;color:#ababab;left:149.0px;transform:scaleX(0.8945829071791284);transform-origin:left;">Won SD after:</div>
<div class="a" style="left:362px;top:468px;width:4px;height:162px;background:#666666;"></div>
<div class="a" style="top:435.00px;font-size:11px;line-height:11px;color:#9a9a9a;left:477px;transform:scaleX(0.85);transform-origin:left;">1</div>
<div class="a" style="left:719px;top:14px;width:79px;height:17px;background:#313131;"></div>
<div class="a" style="left:798px;top:14px;width:88px;height:17px;background:#313131;"></div>
<div class="a" style="left:650px;top:31px;width:294px;height:17px;background:#333333;"></div>
<div class="a" style="left:570px;top:48px;width:374px;height:20px;background:#343434;"></div>
<div class="a" style="left:719px;top:14px;width:167px;height:1px;background:#474747;"></div>
<div class="a" style="left:650px;top:31px;width:294px;height:1px;background:#474747;"></div>
<div class="a" style="left:570px;top:48px;width:374px;height:1px;background:#474747;"></div>
<div class="a" style="left:650px;top:68px;width:294px;height:1px;background:#474747;"></div>
<div class="a" style="left:570px;top:84px;width:375px;height:1px;background:#474747;"></div>
<div class="a" style="left:570px;top:48px;width:1px;height:37px;background:#474747;"></div>
<div class="a" style="left:650px;top:31px;width:2px;height:54px;background:#474747;"></div>
<div class="a" style="left:686px;top:31px;width:2px;height:54px;background:#474747;"></div>
<div class="a" style="left:718px;top:14px;width:2px;height:71px;background:#474747;"></div>
<div class="a" style="left:798px;top:14px;width:2px;height:71px;background:#474747;"></div>
<div class="a" style="left:885px;top:14px;width:2px;height:71px;background:#474747;"></div>
<div class="a" style="left:943px;top:31px;width:1px;height:54px;background:#474747;"></div>
<div class="a" style="top:15.00px;font-size:13px;line-height:13px;color:#a6a6a6;left:658.5px;width:200px;text-align:center;transform:scaleX(0.9283705541770058);transform-origin:center;">Limp-Call</div>
<div class="a" style="top:15.00px;font-size:13px;line-height:13px;color:#a6a6a6;left:802.3px;transform:scaleX(0.9346409322411037);transform-origin:left;">Limp-3Bet</div>
<div class="a" style="top:32.00px;font-size:13px;line-height:13px;color:#a6a6a6;left:568.5px;width:200px;text-align:center;transform:scaleX(0.9612941237631483);transform-origin:center;">Limp</div>
<div class="a" style="top:32.00px;font-size:13px;line-height:13px;color:#a6a6a6;left:602.5px;width:200px;text-align:center;transform:scaleX(0.8556740785256409);transform-origin:center;">L-F</div>
<div class="a" style="top:32.00px;font-size:13px;line-height:13px;color:#a6a6a6;left:643px;width:200px;text-align:center;transform:scaleX(0.773032568749208);transform-origin:center;">%</div>
<div class="a" style="top:32.00px;font-size:13px;line-height:13px;color:#a6a6a6;left:681.5px;width:200px;text-align:center;transform:scaleX(0.8007697508711707);transform-origin:center;">R</div>
<div class="a" style="top:32.00px;font-size:13px;line-height:13px;color:#a6a6a6;left:718.7px;width:200px;text-align:center;transform:scaleX(0.773032568749208);transform-origin:center;">%</div>
<div class="a" style="top:32.00px;font-size:13px;line-height:13px;color:#a6a6a6;left:762px;width:200px;text-align:center;transform:scaleX(0.8007697508711707);transform-origin:center;">R</div>
<div class="a" style="top:32.00px;font-size:13px;line-height:13px;color:#a6a6a6;left:814.6px;width:200px;text-align:center;transform:scaleX(0.9204142011834319);transform-origin:center;">Fold v 4b</div>
<div class="a" style="top:51.00px;font-size:13px;line-height:13px;color:#ababab;left:573.0px;transform:scaleX(0.8560198220520329);transform-origin:left;">SB</div>
<div class="a" style="top:51.00px;font-size:13px;line-height:13px;color:#f5e31a;font-weight:bold;left:568.5px;width:200px;text-align:center;">20</div>
<div class="a" style="top:51.00px;font-size:13px;line-height:13px;color:#46b946;font-weight:bold;left:602.5px;width:200px;text-align:center;">38</div>
<div class="a" style="top:51.00px;font-size:13px;line-height:13px;color:#1ec3e3;font-weight:bold;left:723.5px;">59</div>
<div class="a" style="top:51.00px;font-size:13px;line-height:13px;color:#4452c2;font-weight:bold;left:770.5px;">11</div>
<div class="a" style="top:51.00px;font-size:13px;line-height:13px;color:#ff1414;font-weight:bold;left:802.5px;">3</div>
<div class="a" style="top:51.00px;font-size:13px;line-height:13px;color:#e84545;font-weight:bold;left:842.3px;">0.6</div>
<div class="a" style="top:51.00px;font-size:13px;line-height:13px;color:#46b946;font-weight:bold;left:814.6px;width:200px;text-align:center;">0</div>
<div class="a" style="top:71.00px;font-size:11.5px;line-height:11.5px;color:#ababab;left:574.5px;transform:scaleX(0.99);transform-origin:left;">vs Hero</div>
<div class="a" style="top:69.00px;font-size:13px;line-height:13px;color:#cfa86a;font-weight:bold;letter-spacing:1.04px;left:568.5px;width:200px;text-align:center;">--</div>
<div class="a" style="top:69.00px;font-size:13px;line-height:13px;color:#cfa86a;font-weight:bold;letter-spacing:1.04px;left:602.5px;width:200px;text-align:center;">--</div>
<div class="a" style="top:69.00px;font-size:13px;line-height:13px;color:#cfa86a;font-weight:bold;letter-spacing:1.04px;left:658.5px;width:200px;text-align:center;">--</div>
<div class="a" style="top:69.00px;font-size:13px;line-height:13px;color:#cfa86a;font-weight:bold;letter-spacing:1.04px;left:742px;width:200px;text-align:center;">--</div>
<div class="a" style="top:69.00px;font-size:13px;line-height:13px;color:#cfa86a;font-weight:bold;letter-spacing:1.04px;left:814.6px;width:200px;text-align:center;">--</div>
<div class="a" style="left:570px;top:103px;width:196px;height:16px;background:#333333;"></div>
<div class="a" style="top:104.00px;font-size:13px;line-height:13px;color:#1a9de6;font-weight:bold;left:574px;transform:scaleX(0.8687999952136221);transform-origin:left;">Limp-Call;SB</div>
<div class="a" style="top:104.00px;font-size:13px;line-height:13px;color:#a6a6a6;left:654px;transform:scaleX(0.9299814643188137);transform-origin:left;">Flop</div>
<div class="a" style="top:104.00px;font-size:13px;line-height:13px;color:#a6a6a6;left:690px;transform:scaleX(0.9306614544325301);transform-origin:left;">Turn</div>
<div class="a" style="top:104.00px;font-size:13px;line-height:13px;color:#a6a6a6;left:722.4px;transform:scaleX(0.8899576673587972);transform-origin:left;">River</div>
<div class="a" style="top:122.00px;font-size:13px;line-height:13px;color:#ababab;left:573.3px;transform:scaleX(0.9311592523941922);transform-origin:left;">Fold</div>
<div class="a" style="top:121.00px;font-size:15px;line-height:15px;color:#46b946;font-weight:bold;left:655px;transform:scaleX(0.95);transform-origin:left;">49</div>
<div class="a" style="top:121.00px;font-size:15px;line-height:15px;color:#46b946;font-weight:bold;left:691px;transform:scaleX(0.95);transform-origin:left;">37</div>
<div class="a" style="top:121.00px;font-size:15px;line-height:15px;color:#46b946;font-weight:bold;left:723.4px;transform:scaleX(0.95);transform-origin:left;">37</div>
<div class="a" style="top:142.00px;font-size:13px;line-height:13px;color:#ababab;left:573.3px;transform:scaleX(0.8992096139154961);transform-origin:left;">Raise</div>
<div class="a" style="top:142.00px;font-size:13px;line-height:13px;color:#d23434;left:655px;">5.6</div>
<div class="a" style="top:142.00px;font-size:13px;line-height:13px;color:#d23434;left:691px;">9.8</div>
<div class="a" style="top:142.00px;font-size:13px;line-height:13px;color:#d23434;left:723.4px;">16</div>
<div class="a" style="top:160.00px;font-size:13px;line-height:13px;color:#ababab;left:573.3px;transform:scaleX(0.899467291711059);transform-origin:left;">$ SD af.Raise</div>
<div class="a" style="top:160.00px;font-size:13px;line-height:13px;color:#d2df66;font-weight:bold;left:655px;">61</div>
<div class="a" style="top:160.00px;font-size:13px;line-height:13px;color:#d2df66;font-weight:bold;left:691px;">47</div>
<div class="a" style="top:160.00px;font-size:13px;line-height:13px;color:#d2df66;font-weight:bold;left:723.4px;">50</div>
<div class="a" style="left:570px;top:177px;width:196px;height:1px;background:#555555;"></div>
<div class="a" style="top:180.00px;font-size:13px;line-height:13px;color:#ababab;left:573.3px;transform:scaleX(0.9217582417582417);transform-origin:left;">+Bet</div>
<div class="a" style="top:180.00px;font-size:13px;line-height:13px;color:#e66e1f;left:655px;">55</div>
<div class="a" style="top:180.00px;font-size:13px;line-height:13px;color:#e66e1f;left:691px;">75</div>
<div class="a" style="top:197.00px;font-size:13px;line-height:13px;color:#ababab;left:573.3px;transform:scaleX(0.9072780556596082);transform-origin:left;">$ SD af.Bet</div>
<div class="a" style="top:197.00px;font-size:13px;line-height:13px;color:#d2df66;font-weight:bold;left:655px;">45</div>
<div class="a" style="top:197.00px;font-size:13px;line-height:13px;color:#d2df66;font-weight:bold;left:691px;">60</div>
<div class="a" style="left:570px;top:213px;width:196px;height:1px;background:#555555;"></div>
<div class="a" style="top:216.00px;font-size:13px;line-height:13px;color:#ababab;left:573.3px;transform:scaleX(0.9217582417582417);transform-origin:left;">+Bet</div>
<div class="a" style="top:216.00px;font-size:13px;line-height:13px;color:#e66e1f;left:655px;">60</div>
<div class="a" style="top:233.00px;font-size:13px;line-height:13px;color:#ababab;left:573.3px;transform:scaleX(0.9072780556596082);transform-origin:left;">$ SD af.Bet</div>
<div class="a" style="top:233.00px;font-size:13px;line-height:13px;color:#d2df66;font-weight:bold;left:655px;">33</div>
<div class="a" style="left:570px;top:248px;width:196px;height:1px;background:#555555;"></div>
<div class="a" style="top:251.00px;font-size:13px;line-height:13px;color:#ababab;left:573.3px;transform:scaleX(0.9037739073691406);transform-origin:left;">Raise-Fold</div>
<div class="a" style="top:250.00px;font-size:15px;line-height:15px;color:#46b946;font-weight:bold;left:655px;transform:scaleX(0.95);transform-origin:left;">33</div>
<div class="a" style="top:250.00px;font-size:15px;line-height:15px;color:#46b946;font-weight:bold;left:691px;transform:scaleX(0.95);transform-origin:left;">0</div>
<div class="a" style="left:723px;top:256px;width:5px;height:2px;background:#46b946;"></div>
<div class="a" style="left:729px;top:256px;width:5px;height:2px;background:#46b946;"></div>
<div class="a" style="left:651px;top:267px;width:68px;height:18px;background:#333333;"></div>
<div class="a" style="top:269.00px;font-size:13px;line-height:13px;color:#a6a6a6;left:654.8px;transform:scaleX(0.8663825284383174);transform-origin:left;">XF</div>
<div class="a" style="top:269.00px;font-size:13px;line-height:13px;color:#a6a6a6;left:690.8px;transform:scaleX(0.8766302511544092);transform-origin:left;">B</div>
<div class="a" style="left:570px;top:285px;width:81px;height:18px;background:#303030;"></div>
<div class="a" style="top:287.00px;font-size:13px;line-height:13px;color:#ababab;left:573.3px;transform:scaleX(0.862433531435721);transform-origin:left;">R | X | and R :</div>
<div class="a" style="left:655px;top:292px;width:5px;height:2px;background:#46b946;"></div>
<div class="a" style="left:661px;top:292px;width:5px;height:2px;background:#46b946;"></div>
<div class="a" style="top:287.00px;font-size:13px;line-height:13px;color:#e66e1f;left:691px;">82</div>
<div class="a" style="left:651px;top:321px;width:234px;height:18px;background:#313131;"></div>
<div class="a" style="left:570px;top:358px;width:81px;height:17px;background:#303030;"></div>
<div class="a" style="left:686px;top:321px;width:1px;height:55px;background:#3c3c3c;"></div>
<div class="a" style="left:718px;top:321px;width:1px;height:55px;background:#3c3c3c;"></div>
<div class="a" style="left:765px;top:321px;width:1px;height:55px;background:#3c3c3c;"></div>
<div class="a" style="left:798px;top:321px;width:1px;height:55px;background:#3c3c3c;"></div>
<div class="a" style="left:838px;top:321px;width:1px;height:55px;background:#3c3c3c;"></div>
<div class="a" style="left:885px;top:321px;width:1px;height:55px;background:#3c3c3c;"></div>
<div class="a" style="top:323.00px;font-size:13px;line-height:13px;color:#a6a6a6;left:655.3000000000001px;transform:scaleX(0.8766302511544092);transform-origin:left;">B</div>
<div class="a" style="top:340.00px;font-size:16.25px;line-height:16.25px;color:#e66e1f;font-weight:bold;left:654.9000000000001px;transform:scaleX(0.93);transform-origin:left;">36</div>
<div class="a" style="top:360.00px;font-size:13px;line-height:13px;color:#d2df66;font-weight:bold;left:654.9000000000001px;">40</div>
<div class="a" style="top:323.00px;font-size:13px;line-height:13px;color:#a6a6a6;left:691.2px;transform:scaleX(0.8635137121189853);transform-origin:left;">BF</div>
<div class="a" style="top:342.00px;font-size:13.5px;line-height:13.5px;color:#46b946;font-weight:bold;left:690.8000000000001px;">37</div>
<div class="a" style="top:323.00px;font-size:13px;line-height:13px;color:#a6a6a6;left:723.2px;transform:scaleX(0.8650316983650317);transform-origin:left;">BC|XF</div>
<div class="a" style="top:342.00px;font-size:13.5px;line-height:13.5px;color:#46b946;font-weight:bold;left:722.8000000000001px;">25</div>
<div class="a" style="top:323.00px;font-size:13px;line-height:13px;color:#a6a6a6;left:770.4px;transform:scaleX(0.8672561423129347);transform-origin:left;">B | B</div>
<div class="a" style="top:340.00px;font-size:16.25px;line-height:16.25px;color:#e66e1f;font-weight:bold;left:770.0px;transform:scaleX(0.93);transform-origin:left;">58</div>
<div class="a" style="top:360.00px;font-size:13px;line-height:13px;color:#d2df66;font-weight:bold;left:770.0px;">41</div>
<div class="a" style="top:323.00px;font-size:13px;line-height:13px;color:#a6a6a6;left:803.1px;transform:scaleX(0.8632584468423845);transform-origin:left;">B | BF</div>
<div class="a" style="top:342.00px;font-size:13.5px;line-height:13.5px;color:#46b946;font-weight:bold;left:802.7px;">62</div>
<div class="a" style="top:323.00px;font-size:13px;line-height:13px;color:#a6a6a6;left:843.4px;transform:scaleX(0.8645865367606036);transform-origin:left;">B | XF</div>
<div class="a" style="top:340.00px;font-size:16.25px;line-height:16.25px;color:#46b946;font-weight:bold;left:843.0px;transform:scaleX(0.93);transform-origin:left;">73</div>
<div class="a" style="top:341.00px;font-size:13px;line-height:13px;color:#ababab;left:573.7px;transform:scaleX(0.8982537605635187);transform-origin:left;">XX | and</div>
<div class="a" style="top:359.00px;font-size:13px;line-height:13px;color:#ababab;left:573.7px;transform:scaleX(0.8945829071791284);transform-origin:left;">Won SD after:</div>
<div class="a" style="left:651px;top:376px;width:234px;height:18px;background:#313131;"></div>
<div class="a" style="left:570px;top:413px;width:81px;height:17px;background:#303030;"></div>
<div class="a" style="left:686px;top:376px;width:1px;height:54px;background:#3c3c3c;"></div>
<div class="a" style="left:718px;top:376px;width:1px;height:54px;background:#3c3c3c;"></div>
<div class="a" style="left:765px;top:376px;width:1px;height:54px;background:#3c3c3c;"></div>
<div class="a" style="left:798px;top:376px;width:1px;height:54px;background:#3c3c3c;"></div>
<div class="a" style="left:838px;top:376px;width:1px;height:54px;background:#3c3c3c;"></div>
<div class="a" style="left:885px;top:376px;width:1px;height:54px;background:#3c3c3c;"></div>
<div class="a" style="top:378.00px;font-size:13px;line-height:13px;color:#a6a6a6;left:655.3000000000001px;transform:scaleX(0.8663825284383174);transform-origin:left;">XF</div>
<div class="a" style="top:395.00px;font-size:16.25px;line-height:16.25px;color:#46b946;font-weight:bold;left:654.9000000000001px;transform:scaleX(0.93);transform-origin:left;">60</div>
<div class="a" style="top:378.00px;font-size:13px;line-height:13px;color:#a6a6a6;left:691.2px;transform:scaleX(0.8632526700013519);transform-origin:left;">XC</div>
<div class="a" style="top:397.00px;font-size:13px;line-height:13px;color:#1f97ee;left:690.8000000000001px;">38</div>
<div class="a" style="top:414.00px;font-size:13px;line-height:13px;color:#d2df66;font-weight:bold;left:690.8000000000001px;">52</div>
<div class="a" style="top:378.00px;font-size:13px;line-height:13px;color:#a6a6a6;left:723.2px;transform:scaleX(0.8617477026618922);transform-origin:left;">XC | XF</div>
<div class="a" style="top:395.00px;font-size:16.25px;line-height:16.25px;color:#46b946;font-weight:bold;left:722.8000000000001px;transform:scaleX(0.93);transform-origin:left;">48</div>
<div class="a" style="top:378.00px;font-size:13px;line-height:13px;color:#a6a6a6;left:770.4px;transform:scaleX(0.8398323644720832);transform-origin:left;">XR</div>
<div class="a" style="top:397.00px;font-size:13px;line-height:13px;color:#f0432f;left:770.0px;">2.1</div>
<div class="a" style="top:414.00px;font-size:13px;line-height:13px;color:#d2df66;font-weight:bold;left:770.0px;">99</div>
<div class="a" style="top:378.00px;font-size:13px;line-height:13px;color:#a6a6a6;left:803.1px;transform:scaleX(0.8518122245039436);transform-origin:left;">XR | B</div>
<div class="a" style="top:395.00px;font-size:16.25px;line-height:16.25px;color:#e66e1f;font-weight:bold;left:802.7px;transform:scaleX(0.93);transform-origin:left;">67</div>
<div class="a" style="top:414.00px;font-size:13px;line-height:13px;color:#d2df66;font-weight:bold;left:802.7px;">64</div>
<div class="a" style="top:378.00px;font-size:13px;line-height:13px;color:#a6a6a6;left:843.4px;transform:scaleX(0.8524051943569609);transform-origin:left;">XR | XF</div>
<div class="a" style="left:843px;top:402px;width:5px;height:2px;background:#46b946;"></div>
<div class="a" style="left:849px;top:402px;width:5px;height:2px;background:#46b946;"></div>
<div class="a" style="top:396.00px;font-size:13px;line-height:13px;color:#ababab;left:573.7px;transform:scaleX(0.8982537605635187);transform-origin:left;">XX | and</div>
<div class="a" style="top:414.00px;font-size:13px;line-height:13px;color:#ababab;left:573.7px;transform:scaleX(0.8945829071791284);transform-origin:left;">Won SD after:</div>
<div class="a" style="left:651px;top:430px;width:234px;height:18px;background:#313131;"></div>
<div class="a" style="left:570px;top:468px;width:81px;height:17px;background:#303030;"></div>
<div class="a" style="left:686px;top:430px;width:1px;height:55px;background:#3c3c3c;"></div>
<div class="a" style="left:718px;top:430px;width:1px;height:55px;background:#3c3c3c;"></div>
<div class="a" style="left:798px;top:430px;width:1px;height:55px;background:#3c3c3c;"></div>
<div class="a" style="left:838px;top:430px;width:1px;height:55px;background:#3c3c3c;"></div>
<div class="a" style="left:885px;top:430px;width:1px;height:55px;background:#3c3c3c;"></div>
<div class="a" style="top:432.00px;font-size:13px;line-height:13px;color:#a6a6a6;left:655.3000000000001px;transform:scaleX(0.8663825284383174);transform-origin:left;">XF</div>
<div class="a" style="top:449.00px;font-size:16.25px;line-height:16.25px;color:#46b946;font-weight:bold;left:654.9000000000001px;transform:scaleX(0.93);transform-origin:left;">61</div>
<div class="a" style="top:432.00px;font-size:13px;line-height:13px;color:#a6a6a6;left:691.2px;transform:scaleX(0.8632526700013519);transform-origin:left;">XC</div>
<div class="a" style="top:451.00px;font-size:13px;line-height:13px;color:#1f97ee;left:690.8000000000001px;">33</div>
<div class="a" style="top:469.00px;font-size:13px;line-height:13px;color:#d2df66;font-weight:bold;left:690.8000000000001px;">55</div>
<div class="a" style="top:432.00px;font-size:13px;line-height:13px;color:#a6a6a6;left:723.2px;transform:scaleX(0.8398323644720832);transform-origin:left;">XR</div>
<div class="a" style="top:451.00px;font-size:13px;line-height:13px;color:#f0432f;left:722.8000000000001px;">6.7</div>
<div class="a" style="top:469.00px;font-size:13px;line-height:13px;color:#d2df66;font-weight:bold;left:722.8000000000001px;">50</div>
<div class="a" style="top:432.00px;font-size:13px;line-height:13px;color:#a6a6a6;left:770.5px;transform:scaleX(0.8766302511544092);transform-origin:left;">B</div>
<div class="a" style="top:449.00px;font-size:16.25px;line-height:16.25px;color:#e66e1f;font-weight:bold;left:770.1px;transform:scaleX(0.93);transform-origin:left;">48</div>
<div class="a" style="top:469.00px;font-size:13px;line-height:13px;color:#d2df66;font-weight:bold;left:770.1px;">49</div>
<div class="a" style="top:432.00px;font-size:13px;line-height:13px;color:#a6a6a6;left:803.2px;transform:scaleX(0.8635137121189853);transform-origin:left;">BF</div>
<div class="a" style="top:451.00px;font-size:13.5px;line-height:13.5px;color:#46b946;font-weight:bold;left:802.8000000000001px;">50</div>
<div class="a" style="top:432.00px;font-size:13px;line-height:13px;color:#a6a6a6;left:843.5px;transform:scaleX(0.8606137623360822);transform-origin:left;">BC</div>
<div class="a" style="top:451.00px;font-size:13px;line-height:13px;color:#1f97ee;left:843.1px;">50</div>
<div class="a" style="top:469.00px;font-size:13px;line-height:13px;color:#d2df66;font-weight:bold;left:843.1px;">0</div>
<div class="a" style="top:450.00px;font-size:13px;line-height:13px;color:#ababab;left:573.7px;transform:scaleX(0.8841286539864219);transform-origin:left;">C | XX | and</div>
<div class="a" style="top:468.00px;font-size:13px;line-height:13px;color:#ababab;left:573.7px;transform:scaleX(0.8945829071791284);transform-origin:left;">Won SD after:</div>
<div class="a" style="left:651px;top:485px;width:234px;height:18px;background:#313131;"></div>
<div class="a" style="left:570px;top:522px;width:81px;height:17px;background:#303030;"></div>
<div class="a" style="left:686px;top:485px;width:1px;height:54px;background:#3c3c3c;"></div>
<div class="a" style="left:718px;top:485px;width:1px;height:54px;background:#3c3c3c;"></div>
<div class="a" style="left:798px;top:485px;width:1px;height:54px;background:#3c3c3c;"></div>
<div class="a" style="left:838px;top:485px;width:1px;height:54px;background:#3c3c3c;"></div>
<div class="a" style="left:885px;top:485px;width:1px;height:54px;background:#3c3c3c;"></div>
<div class="a" style="top:487.00px;font-size:13px;line-height:13px;color:#a6a6a6;left:655.3000000000001px;transform:scaleX(0.8663825284383174);transform-origin:left;">XF</div>
<div class="a" style="top:504.00px;font-size:16.25px;line-height:16.25px;color:#46b946;font-weight:bold;left:654.9000000000001px;transform:scaleX(0.93);transform-origin:left;">74</div>
<div class="a" style="top:487.00px;font-size:13px;line-height:13px;color:#a6a6a6;left:691.2px;transform:scaleX(0.8632526700013519);transform-origin:left;">XC</div>
<div class="a" style="top:506.00px;font-size:13px;line-height:13px;color:#1f97ee;left:690.8000000000001px;">26</div>
<div class="a" style="top:523.00px;font-size:13px;line-height:13px;color:#d2df66;font-weight:bold;left:690.8000000000001px;">55</div>
<div class="a" style="top:487.00px;font-size:13px;line-height:13px;color:#a6a6a6;left:723.2px;transform:scaleX(0.8398323644720832);transform-origin:left;">XR</div>
<div class="a" style="top:506.00px;font-size:13px;line-height:13px;color:#f0432f;left:722.8000000000001px;">0</div>
<div class="a" style="left:723px;top:528px;width:5px;height:2px;background:#d2df66;"></div>
<div class="a" style="left:729px;top:528px;width:5px;height:2px;background:#d2df66;"></div>
<div class="a" style="top:487.00px;font-size:13px;line-height:13px;color:#a6a6a6;left:770.5px;transform:scaleX(0.8766302511544092);transform-origin:left;">B</div>
<div class="a" style="top:504.00px;font-size:16.25px;line-height:16.25px;color:#e66e1f;font-weight:bold;left:770.1px;transform:scaleX(0.93);transform-origin:left;">32</div>
<div class="a" style="top:523.00px;font-size:13px;line-height:13px;color:#d2df66;font-weight:bold;left:770.1px;">55</div>
<div class="a" style="top:487.00px;font-size:13px;line-height:13px;color:#a6a6a6;left:803.2px;transform:scaleX(0.8635137121189853);transform-origin:left;">BF</div>
<div class="a" style="top:506.00px;font-size:13.5px;line-height:13.5px;color:#46b946;font-weight:bold;left:802.8000000000001px;">25</div>
<div class="a" style="top:487.00px;font-size:13px;line-height:13px;color:#a6a6a6;left:843.5px;transform:scaleX(0.8606137623360822);transform-origin:left;">BC</div>
<div class="a" style="top:506.00px;font-size:13px;line-height:13px;color:#1f97ee;left:843.1px;">50</div>
<div class="a" style="top:523.00px;font-size:13px;line-height:13px;color:#d2df66;font-weight:bold;left:843.1px;">0</div>
<div class="a" style="top:505.00px;font-size:13px;line-height:13px;color:#ababab;left:573.7px;transform:scaleX(0.8883170834565974);transform-origin:left;">XX | XX | and</div>
<div class="a" style="top:523.00px;font-size:13px;line-height:13px;color:#ababab;left:573.7px;transform:scaleX(0.8945829071791284);transform-origin:left;">Won SD after:</div>
<div class="a" style="left:762px;top:430px;width:4px;height:109px;background:#666666;"></div>
<div class="a" style="left:1024px;top:14px;width:176px;height:17px;background:#333333;"></div>
<div class="a" style="top:15.00px;font-size:13px;line-height:13px;color:#a6a6a6;left:1028px;transform:scaleX(0.883001784540246);transform-origin:left;">TOT</div>
<div class="a" style="top:15.00px;font-size:13px;line-height:13px;color:#a6a6a6;left:1058.6px;transform:scaleX(0.8992096139154961);transform-origin:left;">Raise</div>
<div class="a" style="top:15.00px;font-size:13px;line-height:13px;color:#a6a6a6;left:1096.4px;transform:scaleX(0.9165641025641025);transform-origin:left;">Limp-C</div>
<div class="a" style="top:15.00px;font-size:13px;line-height:13px;color:#a6a6a6;left:1144.5px;transform:scaleX(0.9612941237631483);transform-origin:left;">Limp</div>
<div class="a" style="left:1053px;top:31px;width:2px;height:53px;background:#707070;"></div>
<div class="a" style="left:1092px;top:31px;width:1px;height:53px;background:#3c3c3c;"></div>
<div class="a" style="left:1140px;top:31px;width:1px;height:53px;background:#3c3c3c;"></div>
<div class="a" style="left:1199px;top:31px;width:1px;height:53px;background:#3c3c3c;"></div>
<div class="a" style="top:32.00px;font-size:13px;line-height:13px;color:#ababab;left:819.7px;width:200px;text-align:right;transform:scaleX(0.8715286372277582);transform-origin:right;">WTSD</div>
<div class="a" style="top:32.00px;font-size:13px;line-height:13px;color:#1ec3e3;left:1029px;">31</div>
<div class="a" style="top:32.00px;font-size:13px;line-height:13px;color:#1ec3e3;left:1059.6px;">27</div>
<div class="a" style="top:32.00px;font-size:13px;line-height:13px;color:#1ec3e3;left:1097.4px;">31</div>
<div class="a" style="top:32.00px;font-size:13px;line-height:13px;color:#1ec3e3;left:1145.5px;">35</div>
<div class="a" style="top:51.00px;font-size:13px;line-height:13px;color:#ababab;left:819.7px;width:200px;text-align:right;transform:scaleX(0.8879208093493808);transform-origin:right;">WonSD</div>
<div class="a" style="top:51.00px;font-size:13px;line-height:13px;color:#f2d200;left:1029px;">50</div>
<div class="a" style="top:51.00px;font-size:13px;line-height:13px;color:#f2d200;left:1059.6px;">55</div>
<div class="a" style="top:51.00px;font-size:13px;line-height:13px;color:#f2d200;left:1097.4px;">50</div>
<div class="a" style="top:51.00px;font-size:13px;line-height:13px;color:#f2d200;left:1145.5px;">52</div>
<div class="a" style="top:69.00px;font-size:13px;line-height:13px;color:#ababab;left:819.7px;width:200px;text-align:right;transform:scaleX(0.8659381340547466);transform-origin:right;">WWSF</div>
<div class="a" style="top:69.00px;font-size:13px;line-height:13px;color:#e41a66;left:1029px;">43</div>
<div class="a" style="top:69.00px;font-size:13px;line-height:13px;color:#e41a66;left:1059.6px;">57</div>
<div class="a" style="top:69.00px;font-size:13px;line-height:13px;color:#e41a66;left:1097.4px;">38</div>
<div class="a" style="top:69.00px;font-size:13px;line-height:13px;color:#e41a66;left:1145.5px;">57</div>
<div class="a" style="left:944px;top:103px;width:256px;height:16px;background:#333333;"></div>
<div class="a" style="top:104.00px;font-size:13px;line-height:13px;color:#12a596;font-weight:bold;left:948px;transform:scaleX(0.849179054702276);transform-origin:left;">Limp;SB</div>
<div class="a" style="top:104.00px;font-size:13px;line-height:13px;color:#a6a6a6;left:1027.5px;transform:scaleX(0.9299814643188137);transform-origin:left;">Flop</div>
<div class="a" style="top:104.00px;font-size:13px;line-height:13px;color:#a6a6a6;left:1058.2px;transform:scaleX(0.9306614544325301);transform-origin:left;">Turn</div>
<div class="a" style="top:104.00px;font-size:13px;line-height:13px;color:#a6a6a6;left:1096.4px;transform:scaleX(0.8899576673587972);transform-origin:left;">River</div>
<div class="a" style="top:104.00px;font-size:13px;line-height:13px;color:#a6a6a6;left:1144.5px;transform:scaleX(0.8696176654445926);transform-origin:left;">$ SD</div>
<div class="a" style="top:122.00px;font-size:13px;line-height:13px;color:#ababab;left:947.3px;transform:scaleX(0.9256393573895201);transform-origin:left;">Bet</div>
<div class="a" style="top:120.00px;font-size:16.5px;line-height:16.5px;color:#e66e1f;font-weight:bold;left:1028.5px;transform:scaleX(0.93);transform-origin:left;">28</div>
<div class="a" style="top:120.00px;font-size:16.5px;line-height:16.5px;color:#e66e1f;font-weight:bold;left:1059.2px;transform:scaleX(0.93);transform-origin:left;">68</div>
<div class="a" style="top:120.00px;font-size:16.5px;line-height:16.5px;color:#e66e1f;font-weight:bold;left:1097.4px;transform:scaleX(0.93);transform-origin:left;">73</div>
<div class="a" style="top:122.00px;font-size:13px;line-height:13px;color:#d2df66;font-weight:bold;left:1145.5px;">53</div>
<div class="a" style="left:1024px;top:138px;width:176px;height:2px;background:#6e6e6e;"></div>
<div class="a" style="top:142.00px;font-size:13px;line-height:13px;color:#ababab;left:947.3px;transform:scaleX(0.9015889614364415);transform-origin:left;">B-Fold</div>
<div class="a" style="top:141.00px;font-size:15px;line-height:15px;color:#46b946;font-weight:bold;left:1028.5px;transform:scaleX(0.95);transform-origin:left;">24</div>
<div class="a" style="top:141.00px;font-size:15px;line-height:15px;color:#46b946;font-weight:bold;left:1059.2px;transform:scaleX(0.95);transform-origin:left;">27</div>
<div class="a" style="top:141.00px;font-size:15px;line-height:15px;color:#46b946;font-weight:bold;left:1097.4px;transform:scaleX(0.95);transform-origin:left;">49</div>
<div class="a" style="top:160.00px;font-size:13px;line-height:13px;color:#ababab;left:947.3px;transform:scaleX(0.9266854766854767);transform-origin:left;">+Fold</div>
<div class="a" style="top:160.00px;font-size:13px;line-height:13px;color:#46b946;font-weight:bold;left:1028.5px;">40</div>
<div class="a" style="top:160.00px;font-size:13px;line-height:13px;color:#46b946;font-weight:bold;left:1059.2px;">54</div>
<div class="a" style="top:179.00px;font-size:13px;line-height:13px;color:#ababab;left:947.3px;transform:scaleX(0.9266854766854767);transform-origin:left;">+Fold</div>
<div class="a" style="top:179.00px;font-size:13px;line-height:13px;color:#46b946;font-weight:bold;left:1028.5px;">57</div>
<div class="a" style="left:1055px;top:177px;width:39px;height:18px;box-shadow:inset 0 0 0 1px #474747;"></div>
<div class="a" style="left:1093px;top:177px;width:107px;height:18px;background:#333333;box-shadow:inset 0 0 0 1px #474747;"></div>
<div class="a" style="top:179.00px;font-size:13px;line-height:13px;color:#a6a6a6;left:1017.4000000000001px;width:200px;text-align:center;transform:scaleX(0.8663825284383174);transform-origin:center;">XF</div>
<div class="a" style="top:179.00px;font-size:13px;line-height:13px;color:#a6a6a6;left:1070.1px;width:200px;text-align:center;transform:scaleX(0.8766302511544092);transform-origin:center;">B</div>
<div class="a" style="left:1024px;top:195px;width:70px;height:18px;background:#333333;box-shadow:inset 0 0 0 1px #474747;"></div>
<div class="a" style="top:197.00px;font-size:13px;line-height:13px;color:#a6a6a6;left:889px;width:200px;text-align:right;transform:scaleX(0.8628515005409719);transform-origin:right;">B-C|X|&amp;</div>
<div class="a" style="left:1093px;top:195px;width:107px;height:18px;box-shadow:inset 0 0 0 1px #474747;"></div>
<div class="a" style="top:197.00px;font-size:13px;line-height:13px;color:#46b946;font-weight:bold;left:1017.4000000000001px;width:200px;text-align:center;">50</div>
<div class="a" style="top:197.00px;font-size:13px;line-height:13px;color:#f39c12;font-weight:bold;left:1070.1px;width:200px;text-align:center;">35</div>
<div class="a" style="left:944px;top:212px;width:256px;height:1px;background:#505050;"></div>
<div class="a" style="left:1024px;top:232px;width:294px;height:16px;background:#333333;"></div>
<div class="a" style="top:232.00px;font-size:13px;line-height:13px;color:#ababab;left:947.3px;transform:scaleX(0.9172081685644072);transform-origin:left;">Skip Bet and</div>
<div class="a" style="top:232.00px;font-size:13px;line-height:13px;color:#a6a6a6;left:1027.8px;transform:scaleX(0.8663825284383174);transform-origin:left;">XF</div>
<div class="a" style="top:232.00px;font-size:13px;line-height:13px;color:#a6a6a6;left:1058.8px;transform:scaleX(0.8632526700013519);transform-origin:left;">XC</div>
<div class="a" style="top:232.00px;font-size:13px;line-height:13px;color:#a6a6a6;left:1096.5px;transform:scaleX(0.8569198751300727);transform-origin:left;">XC | F</div>
<div class="a" style="top:232.00px;font-size:13px;line-height:13px;color:#a6a6a6;left:1144.4px;transform:scaleX(0.8662567823809953);transform-origin:left;">XC|XC|XF</div>
<div class="a" style="top:232.00px;font-size:13px;line-height:13px;color:#a6a6a6;left:1203.3px;transform:scaleX(0.8398323644720832);transform-origin:left;">XR</div>
<div class="a" style="top:232.00px;font-size:13px;line-height:13px;color:#a6a6a6;left:1243.2px;transform:scaleX(0.8551614525049059);transform-origin:left;">XR|B</div>
<div class="a" style="left:1054px;top:232px;width:1px;height:71px;background:#3c3c3c;"></div>
<div class="a" style="left:1093px;top:232px;width:1px;height:71px;background:#3c3c3c;"></div>
<div class="a" style="left:1199px;top:232px;width:1px;height:71px;background:#3c3c3c;"></div>
<div class="a" style="left:1318px;top:232px;width:1px;height:71px;background:#3c3c3c;"></div>
<div class="a" style="top:251.00px;font-size:13px;line-height:13px;color:#ababab;left:947.3px;transform:scaleX(0.9299814643188137);transform-origin:left;">Flop</div>
<div class="a" style="top:250.00px;font-size:16px;line-height:16px;color:#46b946;font-weight:bold;left:1028.8px;transform:scaleX(0.93);transform-origin:left;">54</div>
<div class="a" style="top:251.00px;font-size:13px;line-height:13px;color:#1f97ee;left:1059.8px;">43</div>
<div class="a" style="top:251.00px;font-size:13.5px;line-height:13.5px;color:#46b946;font-weight:bold;left:1097.5px;">34</div>
<div class="a" style="top:251.00px;font-size:13.5px;line-height:13.5px;color:#46b946;font-weight:bold;left:1145.4px;">55</div>
<div class="a" style="top:251.00px;font-size:13.5px;line-height:13.5px;color:#f0432f;font-weight:bold;left:1204.3px;">2.9</div>
<div class="a" style="top:251.00px;font-size:13px;line-height:13px;color:#f39c12;left:1244.2px;">68</div>
<div class="a" style="top:269.00px;font-size:13px;line-height:13px;color:#ababab;left:947.3px;transform:scaleX(0.9306614544325301);transform-origin:left;">Turn</div>
<div class="a" style="top:268.00px;font-size:16px;line-height:16px;color:#46b946;font-weight:bold;left:1028.8px;transform:scaleX(0.93);transform-origin:left;">49</div>
<div class="a" style="top:269.00px;font-size:13px;line-height:13px;color:#1f97ee;left:1059.8px;">47</div>
<div class="a" style="top:269.00px;font-size:13.5px;line-height:13.5px;color:#46b946;font-weight:bold;left:1097.5px;">68</div>
<div class="a" style="top:269.00px;font-size:13.5px;line-height:13.5px;color:#f0432f;font-weight:bold;left:1204.3px;">3.9</div>
<div class="a" style="top:269.00px;font-size:13px;line-height:13px;color:#f39c12;left:1244.2px;">75</div>
<div class="a" style="top:287.00px;font-size:13px;line-height:13px;color:#ababab;left:947.3px;transform:scaleX(0.8899576673587972);transform-origin:left;">River</div>
<div class="a" style="top:286.00px;font-size:16px;line-height:16px;color:#46b946;font-weight:bold;left:1028.8px;transform:scaleX(0.93);transform-origin:left;">70</div>
<div class="a" style="top:287.00px;font-size:13px;line-height:13px;color:#1f97ee;left:1059.8px;">30</div>
<div class="a" style="top:287.00px;font-size:13.5px;line-height:13.5px;color:#f0432f;font-weight:bold;left:1204.3px;">0</div>
<div class="a" style="left:1024px;top:321px;width:293px;height:18px;background:#313131;"></div>
<div class="a" style="left:944px;top:358px;width:80px;height:17px;background:#303030;"></div>
<div class="a" style="left:1054px;top:321px;width:1px;height:55px;background:#3c3c3c;"></div>
<div class="a" style="left:1092px;top:321px;width:1px;height:55px;background:#3c3c3c;"></div>
<div class="a" style="left:1140px;top:321px;width:1px;height:55px;background:#3c3c3c;"></div>
<div class="a" style="left:1199px;top:321px;width:1px;height:55px;background:#3c3c3c;"></div>
<div class="a" style="left:1239px;top:321px;width:1px;height:55px;background:#3c3c3c;"></div>
<div class="a" style="left:1317px;top:321px;width:1px;height:55px;background:#3c3c3c;"></div>
<div class="a" style="top:323.00px;font-size:13px;line-height:13px;color:#a6a6a6;left:1028.3999999999999px;transform:scaleX(0.8766302511544092);transform-origin:left;">B</div>
<div class="a" style="top:340.00px;font-size:16.25px;line-height:16.25px;color:#e66e1f;font-weight:bold;left:1028.8px;transform:scaleX(0.93);transform-origin:left;">28</div>
<div class="a" style="top:360.00px;font-size:13px;line-height:13px;color:#d2df66;font-weight:bold;left:1028.8px;">50</div>
<div class="a" style="top:323.00px;font-size:13px;line-height:13px;color:#a6a6a6;left:1059.2px;transform:scaleX(0.8635137121189853);transform-origin:left;">BF</div>
<div class="a" style="top:342.00px;font-size:13.5px;line-height:13.5px;color:#46b946;font-weight:bold;left:1059.6000000000001px;">34</div>
<div class="a" style="top:323.00px;font-size:13px;line-height:13px;color:#a6a6a6;left:1097.2px;transform:scaleX(0.8650316983650317);transform-origin:left;">BC|XF</div>
<div class="a" style="top:342.00px;font-size:13.5px;line-height:13.5px;color:#46b946;font-weight:bold;left:1097.6000000000001px;">71</div>
<div class="a" style="top:323.00px;font-size:13px;line-height:13px;color:#a6a6a6;left:1145.4px;transform:scaleX(0.8775075414781297);transform-origin:left;">B|B</div>
<div class="a" style="top:340.00px;font-size:16.25px;line-height:16.25px;color:#e66e1f;font-weight:bold;left:1145.8000000000002px;transform:scaleX(0.93);transform-origin:left;">66</div>
<div class="a" style="top:360.00px;font-size:13px;line-height:13px;color:#d2df66;font-weight:bold;left:1145.8000000000002px;">59</div>
<div class="a" style="top:323.00px;font-size:13px;line-height:13px;color:#a6a6a6;left:1204.3px;transform:scaleX(0.8713246443479);transform-origin:left;">B|XF</div>
<div class="a" style="top:342.00px;font-size:13.5px;line-height:13.5px;color:#46b946;font-weight:bold;left:1204.7px;">67</div>
<div class="a" style="top:323.00px;font-size:13px;line-height:13px;color:#a6a6a6;left:1244.2px;transform:scaleX(0.8692096855284711);transform-origin:left;">B|XC</div>
<div class="a" style="top:342.00px;font-size:13px;line-height:13px;color:#1f97ee;left:1244.6000000000001px;">29</div>
<div class="a" style="top:360.00px;font-size:13px;line-height:13px;color:#d2df66;font-weight:bold;left:1244.6000000000001px;">36</div>
<div class="a" style="top:341.00px;font-size:13px;line-height:13px;color:#ababab;left:947.9px;transform:scaleX(0.8982537605635187);transform-origin:left;">XX | and</div>
<div class="a" style="top:359.00px;font-size:13px;line-height:13px;color:#ababab;left:947.9px;transform:scaleX(0.8945829071791284);transform-origin:left;">Won SD after:</div>
<div class="a" style="left:1024px;top:376px;width:293px;height:18px;background:#313131;"></div>
<div class="a" style="left:944px;top:413px;width:80px;height:17px;background:#303030;"></div>
<div class="a" style="left:1054px;top:376px;width:1px;height:55px;background:#3c3c3c;"></div>
<div class="a" style="left:1092px;top:376px;width:1px;height:55px;background:#3c3c3c;"></div>
<div class="a" style="left:1140px;top:376px;width:1px;height:55px;background:#3c3c3c;"></div>
<div class="a" style="left:1199px;top:376px;width:1px;height:55px;background:#3c3c3c;"></div>
<div class="a" style="left:1239px;top:376px;width:1px;height:55px;background:#3c3c3c;"></div>
<div class="a" style="left:1317px;top:376px;width:1px;height:55px;background:#3c3c3c;"></div>
<div class="a" style="top:378.00px;font-size:13px;line-height:13px;color:#a6a6a6;left:1028.3999999999999px;transform:scaleX(0.8663825284383174);transform-origin:left;">XF</div>
<div class="a" style="top:395.00px;font-size:16.25px;line-height:16.25px;color:#46b946;font-weight:bold;left:1028.8px;transform:scaleX(0.93);transform-origin:left;">58</div>
<div class="a" style="top:378.00px;font-size:13px;line-height:13px;color:#a6a6a6;left:1059.2px;transform:scaleX(0.8632526700013519);transform-origin:left;">XC</div>
<div class="a" style="top:397.00px;font-size:13px;line-height:13px;color:#1f97ee;left:1059.6000000000001px;">39</div>
<div class="a" style="top:415.00px;font-size:13px;line-height:13px;color:#d2df66;font-weight:bold;left:1059.6000000000001px;">46</div>
<div class="a" style="top:378.00px;font-size:13px;line-height:13px;color:#a6a6a6;left:1097.2px;transform:scaleX(0.8617477026618922);transform-origin:left;">XC | XF</div>
<div class="a" style="top:397.00px;font-size:13.5px;line-height:13.5px;color:#46b946;font-weight:bold;left:1097.6000000000001px;">62</div>
<div class="a" style="top:378.00px;font-size:13px;line-height:13px;color:#a6a6a6;left:1145.4px;transform:scaleX(0.8007697508711707);transform-origin:left;">R</div>
<div class="a" style="top:397.00px;font-size:13px;line-height:13px;color:#f0432f;left:1145.8000000000002px;">3.3</div>
<div class="a" style="top:415.00px;font-size:13px;line-height:13px;color:#d2df66;font-weight:bold;left:1145.8000000000002px;">40</div>
<div class="a" style="top:378.00px;font-size:13px;line-height:13px;color:#a6a6a6;left:1204.3px;transform:scaleX(0.8518122245039436);transform-origin:left;">XR | B</div>
<div class="a" style="top:397.00px;font-size:13px;line-height:13px;color:#f39c12;left:1204.7px;">55</div>
<div class="a" style="top:415.00px;font-size:13px;line-height:13px;color:#d2df66;font-weight:bold;left:1204.7px;">29</div>
<div class="a" style="top:378.00px;font-size:13px;line-height:13px;color:#a6a6a6;left:1244.2px;transform:scaleX(0.8524051943569609);transform-origin:left;">XR | XF</div>
<div class="a" style="top:397.00px;font-size:13.5px;line-height:13.5px;color:#46b946;font-weight:bold;left:1244.6000000000001px;">67</div>
<div class="a" style="top:396.00px;font-size:13px;line-height:13px;color:#ababab;left:947.9px;transform:scaleX(0.8982537605635187);transform-origin:left;">XX | and</div>
<div class="a" style="top:414.00px;font-size:13px;line-height:13px;color:#ababab;left:947.9px;transform:scaleX(0.8945829071791284);transform-origin:left;">Won SD after:</div>
<div class="a" style="left:1024px;top:431px;width:293px;height:17px;background:#313131;"></div>
<div class="a" style="left:944px;top:467px;width:80px;height:18px;background:#303030;"></div>
<div class="a" style="left:1054px;top:431px;width:1px;height:54px;background:#3c3c3c;"></div>
<div class="a" style="left:1092px;top:431px;width:1px;height:54px;background:#3c3c3c;"></div>
<div class="a" style="left:1199px;top:431px;width:1px;height:54px;background:#3c3c3c;"></div>
<div class="a" style="left:1239px;top:431px;width:1px;height:54px;background:#3c3c3c;"></div>
<div class="a" style="left:1317px;top:431px;width:1px;height:54px;background:#3c3c3c;"></div>
<div class="a" style="top:433.00px;font-size:13px;line-height:13px;color:#a6a6a6;left:1028.3999999999999px;transform:scaleX(0.8663825284383174);transform-origin:left;">XF</div>
<div class="a" style="top:450.00px;font-size:16.25px;line-height:16.25px;color:#46b946;font-weight:bold;left:1028.8px;transform:scaleX(0.93);transform-origin:left;">62</div>
<div class="a" style="top:433.00px;font-size:13px;line-height:13px;color:#a6a6a6;left:1059.2px;transform:scaleX(0.8632526700013519);transform-origin:left;">XC</div>
<div class="a" style="top:452.00px;font-size:13px;line-height:13px;color:#1f97ee;left:1059.6000000000001px;">37</div>
<div class="a" style="top:469.00px;font-size:13px;line-height:13px;color:#d2df66;font-weight:bold;left:1059.6000000000001px;">43</div>
<div class="a" style="top:433.00px;font-size:13px;line-height:13px;color:#a6a6a6;left:1097.2px;transform:scaleX(0.8398323644720832);transform-origin:left;">XR</div>
<div class="a" style="top:452.00px;font-size:13px;line-height:13px;color:#f0432f;left:1097.6000000000001px;">1</div>
<div class="a" style="top:469.00px;font-size:13px;line-height:13px;color:#d2df66;font-weight:bold;left:1097.6000000000001px;">99</div>
<div class="a" style="top:433.00px;font-size:13px;line-height:13px;color:#a6a6a6;left:1145.5px;transform:scaleX(0.8766302511544092);transform-origin:left;">B</div>
<div class="a" style="top:450.00px;font-size:16.25px;line-height:16.25px;color:#e66e1f;font-weight:bold;left:1145.9px;transform:scaleX(0.93);transform-origin:left;">42</div>
<div class="a" style="top:469.00px;font-size:13px;line-height:13px;color:#d2df66;font-weight:bold;left:1145.9px;">54</div>
<div class="a" style="top:433.00px;font-size:13px;line-height:13px;color:#a6a6a6;left:1204.3999999999999px;transform:scaleX(0.8635137121189853);transform-origin:left;">BF</div>
<div class="a" style="top:452.00px;font-size:13.5px;line-height:13.5px;color:#46b946;font-weight:bold;left:1204.8px;">33</div>
<div class="a" style="top:433.00px;font-size:13px;line-height:13px;color:#a6a6a6;left:1244.3px;transform:scaleX(0.8606137623360822);transform-origin:left;">BC</div>
<div class="a" style="top:452.00px;font-size:13px;line-height:13px;color:#1f97ee;left:1244.7px;">60</div>
<div class="a" style="top:469.00px;font-size:13px;line-height:13px;color:#d2df66;font-weight:bold;left:1244.7px;">33</div>
<div class="a" style="top:451.00px;font-size:13px;line-height:13px;color:#ababab;left:947.9px;transform:scaleX(0.8839068990033803);transform-origin:left;">XC | XX | and</div>
<div class="a" style="top:469.00px;font-size:13px;line-height:13px;color:#ababab;left:947.9px;transform:scaleX(0.8945829071791284);transform-origin:left;">Won SD after:</div>
<div class="a" style="left:1024px;top:485px;width:293px;height:18px;background:#313131;"></div>
<div class="a" style="left:944px;top:522px;width:80px;height:18px;background:#303030;"></div>
<div class="a" style="left:1054px;top:485px;width:1px;height:55px;background:#3c3c3c;"></div>
<div class="a" style="left:1092px;top:485px;width:1px;height:55px;background:#3c3c3c;"></div>
<div class="a" style="left:1199px;top:485px;width:1px;height:55px;background:#3c3c3c;"></div>
<div class="a" style="left:1239px;top:485px;width:1px;height:55px;background:#3c3c3c;"></div>
<div class="a" style="left:1317px;top:485px;width:1px;height:55px;background:#3c3c3c;"></div>
<div class="a" style="top:487.00px;font-size:13px;line-height:13px;color:#a6a6a6;left:1028.3999999999999px;transform:scaleX(0.8663825284383174);transform-origin:left;">XF</div>
<div class="a" style="top:504.00px;font-size:16.25px;line-height:16.25px;color:#46b946;font-weight:bold;left:1028.8px;transform:scaleX(0.93);transform-origin:left;">76</div>
<div class="a" style="top:487.00px;font-size:13px;line-height:13px;color:#a6a6a6;left:1059.2px;transform:scaleX(0.8632526700013519);transform-origin:left;">XC</div>
<div class="a" style="top:506.00px;font-size:13px;line-height:13px;color:#1f97ee;left:1059.6000000000001px;">23</div>
<div class="a" style="top:524.00px;font-size:13px;line-height:13px;color:#d2df66;font-weight:bold;left:1059.6000000000001px;">0</div>
<div class="a" style="top:487.00px;font-size:13px;line-height:13px;color:#a6a6a6;left:1097.2px;transform:scaleX(0.8398323644720832);transform-origin:left;">XR</div>
<div class="a" style="top:506.00px;font-size:13px;line-height:13px;color:#f0432f;left:1097.6000000000001px;">1.6</div>
<div class="a" style="top:524.00px;font-size:13px;line-height:13px;color:#d2df66;font-weight:bold;left:1097.6000000000001px;">0</div>
<div class="a" style="top:487.00px;font-size:13px;line-height:13px;color:#a6a6a6;left:1145.5px;transform:scaleX(0.8766302511544092);transform-origin:left;">B</div>
<div class="a" style="top:504.00px;font-size:16.25px;line-height:16.25px;color:#e66e1f;font-weight:bold;left:1145.9px;transform:scaleX(0.93);transform-origin:left;">42</div>
<div class="a" style="top:524.00px;font-size:13px;line-height:13px;color:#d2df66;font-weight:bold;left:1145.9px;">38</div>
<div class="a" style="top:487.00px;font-size:13px;line-height:13px;color:#a6a6a6;left:1204.3999999999999px;transform:scaleX(0.8635137121189853);transform-origin:left;">BF</div>
<div class="a" style="top:506.00px;font-size:13.5px;line-height:13.5px;color:#46b946;font-weight:bold;left:1204.8px;">40</div>
<div class="a" style="top:487.00px;font-size:13px;line-height:13px;color:#a6a6a6;left:1244.3px;transform:scaleX(0.8606137623360822);transform-origin:left;">BC</div>
<div class="a" style="top:506.00px;font-size:13px;line-height:13px;color:#1f97ee;left:1244.7px;">50</div>
<div class="a" style="top:524.00px;font-size:13px;line-height:13px;color:#d2df66;font-weight:bold;left:1244.7px;">20</div>
<div class="a" style="top:505.00px;font-size:13px;line-height:13px;color:#ababab;left:947.9px;transform:scaleX(0.8884044927895688);transform-origin:left;">B | XX | and</div>
<div class="a" style="top:523.00px;font-size:13px;line-height:13px;color:#ababab;left:947.9px;transform:scaleX(0.8945829071791284);transform-origin:left;">Won SD after:</div>
<div class="a" style="left:1024px;top:540px;width:293px;height:18px;background:#313131;"></div>
<div class="a" style="left:944px;top:577px;width:80px;height:17px;background:#303030;"></div>
<div class="a" style="left:1054px;top:540px;width:1px;height:54px;background:#3c3c3c;"></div>
<div class="a" style="left:1092px;top:540px;width:1px;height:54px;background:#3c3c3c;"></div>
<div class="a" style="left:1199px;top:540px;width:1px;height:54px;background:#3c3c3c;"></div>
<div class="a" style="left:1239px;top:540px;width:1px;height:54px;background:#3c3c3c;"></div>
<div class="a" style="left:1317px;top:540px;width:1px;height:54px;background:#3c3c3c;"></div>
<div class="a" style="top:542.00px;font-size:13px;line-height:13px;color:#a6a6a6;left:1028.3999999999999px;transform:scaleX(0.8663825284383174);transform-origin:left;">XF</div>
<div class="a" style="top:559.00px;font-size:16.25px;line-height:16.25px;color:#46b946;font-weight:bold;left:1028.8px;transform:scaleX(0.93);transform-origin:left;">73</div>
<div class="a" style="top:542.00px;font-size:13px;line-height:13px;color:#a6a6a6;left:1059.2px;transform:scaleX(0.8632526700013519);transform-origin:left;">XC</div>
<div class="a" style="top:561.00px;font-size:13px;line-height:13px;color:#1f97ee;left:1059.6000000000001px;">25</div>
<div class="a" style="top:579.00px;font-size:13px;line-height:13px;color:#d2df66;font-weight:bold;left:1059.6000000000001px;">32</div>
<div class="a" style="top:542.00px;font-size:13px;line-height:13px;color:#a6a6a6;left:1097.2px;transform:scaleX(0.8398323644720832);transform-origin:left;">XR</div>
<div class="a" style="top:561.00px;font-size:13px;line-height:13px;color:#f0432f;left:1097.6000000000001px;">1.9</div>
<div class="a" style="top:579.00px;font-size:13px;line-height:13px;color:#d2df66;font-weight:bold;left:1097.6000000000001px;">75</div>
<div class="a" style="top:542.00px;font-size:13px;line-height:13px;color:#a6a6a6;left:1145.5px;transform:scaleX(0.8766302511544092);transform-origin:left;">B</div>
<div class="a" style="top:559.00px;font-size:16.25px;line-height:16.25px;color:#e66e1f;font-weight:bold;left:1145.9px;transform:scaleX(0.93);transform-origin:left;">26</div>
<div class="a" style="top:579.00px;font-size:13px;line-height:13px;color:#d2df66;font-weight:bold;left:1145.9px;">55</div>
<div class="a" style="top:542.00px;font-size:13px;line-height:13px;color:#a6a6a6;left:1204.3999999999999px;transform:scaleX(0.8635137121189853);transform-origin:left;">BF</div>
<div class="a" style="top:561.00px;font-size:13.5px;line-height:13.5px;color:#46b946;font-weight:bold;left:1204.8px;">31</div>
<div class="a" style="top:542.00px;font-size:13px;line-height:13px;color:#a6a6a6;left:1244.3px;transform:scaleX(0.8606137623360822);transform-origin:left;">BC</div>
<div class="a" style="top:561.00px;font-size:13px;line-height:13px;color:#1f97ee;left:1244.7px;">55</div>
<div class="a" style="top:579.00px;font-size:13px;line-height:13px;color:#d2df66;font-weight:bold;left:1244.7px;">27</div>
<div class="a" style="top:560.00px;font-size:13px;line-height:13px;color:#ababab;left:947.9px;transform:scaleX(0.8883170834565974);transform-origin:left;">XX | XX | and</div>
<div class="a" style="top:578.00px;font-size:13px;line-height:13px;color:#ababab;left:947.9px;transform:scaleX(0.8945829071791284);transform-origin:left;">Won SD after:</div>
<div class="a" style="left:1137px;top:431px;width:3px;height:163px;background:#666666;"></div>
<div class="a" style="left:1240px;top:68px;width:177px;height:17px;background:#333333;"></div>
<div class="a" style="top:69.00px;font-size:13px;line-height:13px;color:#a6a6a6;left:1243.4px;transform:scaleX(0.930949448833088);transform-origin:left;">vsBet</div>
<div class="a" style="top:69.00px;font-size:13px;line-height:13px;color:#a6a6a6;left:1321.4px;transform:scaleX(0.9299814643188137);transform-origin:left;">Flop</div>
<div class="a" style="top:69.00px;font-size:13px;line-height:13px;color:#a6a6a6;left:1353.2px;transform:scaleX(0.9306614544325301);transform-origin:left;">Turn</div>
<div class="a" style="top:69.00px;font-size:13px;line-height:13px;color:#a6a6a6;left:1385.1px;transform:scaleX(0.8899576673587972);transform-origin:left;">River</div>
<div class="a" style="top:86.00px;font-size:13px;line-height:13px;color:#ababab;left:1243.7px;transform:scaleX(0.9311592523941922);transform-origin:left;">Fold</div>
<div class="a" style="top:86.00px;font-size:15.5px;line-height:15.5px;color:#46b946;font-weight:bold;left:1322.4px;transform:scaleX(0.95);transform-origin:left;">54</div>
<div class="a" style="top:86.00px;font-size:15.5px;line-height:15.5px;color:#46b946;font-weight:bold;left:1354.2px;transform:scaleX(0.95);transform-origin:left;">34</div>
<div class="a" style="top:86.00px;font-size:15.5px;line-height:15.5px;color:#46b946;font-weight:bold;left:1386.1px;transform:scaleX(0.95);transform-origin:left;">55</div>
<div class="a" style="top:104.00px;font-size:13px;line-height:13px;color:#ababab;left:1243.7px;transform:scaleX(0.8992096139154961);transform-origin:left;">Raise</div>
<div class="a" style="top:105.00px;font-size:12.5px;line-height:12.5px;color:#d23434;left:1322.4px;">2.9</div>
<div class="a" style="top:105.00px;font-size:12.5px;line-height:12.5px;color:#d23434;left:1354.2px;">6.8</div>
<div class="a" style="top:105.00px;font-size:12.5px;line-height:12.5px;color:#d23434;left:1386.1px;">8.9</div>
<div class="a" style="left:1240px;top:119px;width:177px;height:1px;background:#5e5e5e;"></div>
<div class="a" style="top:123.00px;font-size:13px;line-height:13px;color:#ababab;left:1243.7px;transform:scaleX(0.9217582417582417);transform-origin:left;">+Bet</div>
<div class="a" style="top:123.00px;font-size:13px;line-height:13px;color:#e66e1f;left:1322.4px;">68</div>
<div class="a" style="top:123.00px;font-size:13px;line-height:13px;color:#e66e1f;left:1354.2px;">77</div>
<div class="a" style="left:1240px;top:140px;width:177px;height:1px;background:#5e5e5e;"></div>
<div class="a" style="top:142.00px;font-size:13px;line-height:13px;color:#ababab;left:1243.7px;transform:scaleX(0.9217582417582417);transform-origin:left;">+Bet</div>
<div class="a" style="top:143.00px;font-size:13px;line-height:13px;color:#e66e1f;left:1322.4px;">90</div>
<div class="a" style="left:1240px;top:158px;width:177px;height:1px;background:#5e5e5e;"></div>
<div class="a" style="top:161.00px;font-size:13px;line-height:13px;color:#ababab;left:1243.7px;transform:scaleX(0.9037739073691406);transform-origin:left;">Raise-Fold</div>
<div class="a" style="top:160.00px;font-size:15.5px;line-height:15.5px;color:#46b946;font-weight:bold;left:1322.4px;transform:scaleX(0.95);transform-origin:left;">23</div>
<div class="a" style="top:160.00px;font-size:15.5px;line-height:15.5px;color:#46b946;font-weight:bold;left:1354.2px;transform:scaleX(0.95);transform-origin:left;">0</div>
<div class="a" style="top:160.00px;font-size:15.5px;line-height:15.5px;color:#46b946;font-weight:bold;left:1386.1px;transform:scaleX(0.95);transform-origin:left;">0</div>
<div class="a" style="left:1318px;top:177px;width:64px;height:18px;background:#333333;"></div>
<div class="a" style="top:179.00px;font-size:13px;line-height:13px;color:#a6a6a6;left:1322.4px;transform:scaleX(0.8663825284383174);transform-origin:left;">XF</div>
<div class="a" style="top:179.00px;font-size:13px;line-height:13px;color:#a6a6a6;left:1353.2px;transform:scaleX(0.8766302511544092);transform-origin:left;">B</div>
<div class="a" style="left:1240px;top:195px;width:78px;height:17px;background:#303030;"></div>
<div class="a" style="top:197.00px;font-size:13px;line-height:13px;color:#ababab;left:1243.7px;transform:scaleX(0.862433531435721);transform-origin:left;">R | X | and R :</div>
<div class="a" style="top:196.00px;font-size:15.5px;line-height:15.5px;color:#46b946;font-weight:bold;left:1322.4px;transform:scaleX(0.95);transform-origin:left;">99</div>
<div class="a" style="top:200.00px;font-size:11px;line-height:11px;color:#9a9a9a;left:1339px;transform:scaleX(0.85);transform-origin:left;">1</div>
<div class="a" style="top:197.00px;font-size:13px;line-height:13px;color:#e66e1f;left:1354.2px;">75</div>
</div></body></html>
